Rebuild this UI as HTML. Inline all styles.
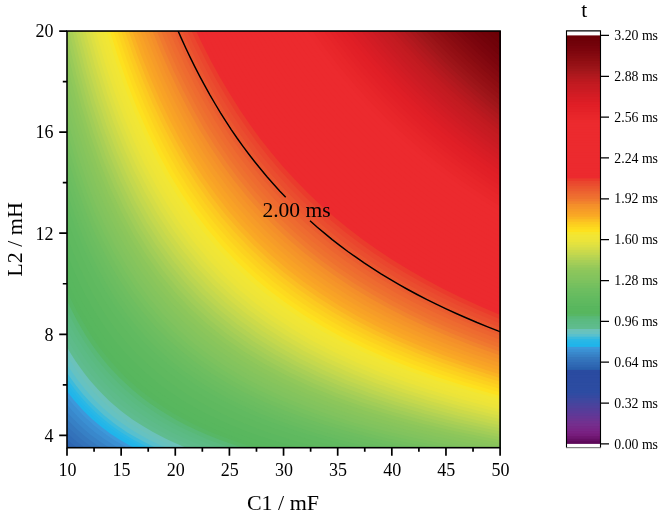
<!DOCTYPE html>
<html><head><meta charset="utf-8"><title>t contour</title>
<style>html,body{margin:0;padding:0;background:#fff;width:667px;height:517px;overflow:hidden}</style>
</head><body>
<svg width="667" height="517" viewBox="0 0 667 517" style="display:block;position:absolute;left:0;top:0">
<defs><clipPath id="pc"><rect x="67.0" y="31.05" width="433.10" height="416.65"/></clipPath></defs>
<rect width="667" height="517" fill="#fff"/>
<g clip-path="url(#pc)">
<rect x="66.0" y="30.05" width="435.10" height="418.65" fill="#2961ad"/>
<path d="M55.1,434.0 55.9,434.9 56.8,435.8 57.6,436.7 58.5,437.6 59.4,438.5 60.3,439.4 61.2,440.2 62.1,441.1 63.0,442.0 63.9,442.8 64.8,443.6 65.7,444.5 66.7,445.3 67.6,446.1 68.6,446.9 69.6,447.7 70.6,448.5 71.6,449.3 72.6,450.0 73.6,450.8 74.6,451.6 75.6,452.3 76.6,453.1 77.7,453.8 78.7,454.6 79.8,455.3 521.8,455.3 521.8,-44.8 55.1,-44.8Z" fill="#2e66b2"/>
<path d="M55.2,427.1 56.3,428.3 57.4,429.6 58.5,430.8 59.6,432.0 60.8,433.2 61.9,434.4 63.1,435.5 64.3,436.7 65.5,437.8 66.7,438.9 67.9,440.1 69.1,441.1 70.4,442.2 71.6,443.3 72.9,444.4 74.2,445.4 75.5,446.5 76.8,447.5 78.2,448.5 79.5,449.5 80.9,450.5 82.3,451.5 83.7,452.4 85.1,453.4 86.5,454.3 88.0,455.3 521.8,455.3 521.8,-44.8 55.2,-44.8Z" fill="#306cb6"/>
<path d="M55.4,419.9 56.7,421.5 58.1,423.1 59.4,424.7 60.8,426.2 62.2,427.8 63.6,429.3 65.0,430.7 66.5,432.2 67.9,433.6 69.4,435.1 70.9,436.5 72.5,437.8 74.0,439.2 75.6,440.5 77.2,441.9 78.8,443.2 80.5,444.5 82.2,445.7 83.9,447.0 85.6,448.2 87.4,449.4 89.1,450.6 90.9,451.8 92.8,453.0 94.6,454.1 96.5,455.3 521.8,455.3 521.8,-44.8 55.4,-44.8Z" fill="#3372ba"/>
<path d="M55.6,412.5 57.1,414.5 58.7,416.5 60.3,418.4 61.9,420.3 63.5,422.2 65.2,424.1 66.9,425.9 68.6,427.7 70.4,429.4 72.2,431.1 74.0,432.8 75.8,434.5 77.7,436.2 79.6,437.8 81.6,439.4 83.5,440.9 85.5,442.5 87.6,444.0 89.7,445.5 91.8,447.0 93.9,448.4 96.1,449.8 98.3,451.2 100.6,452.6 102.9,453.9 105.2,455.3 521.8,455.3 521.8,-44.8 55.6,-44.8Z" fill="#3578be"/>
<path d="M55.7,404.9 57.5,407.3 59.3,409.7 61.1,412.0 63.0,414.3 64.9,416.6 66.8,418.8 68.8,420.9 70.8,423.1 72.8,425.1 74.9,427.2 77.0,429.2 79.2,431.2 81.4,433.1 83.6,435.0 85.9,436.9 88.3,438.7 90.6,440.5 93.1,442.3 95.5,444.0 98.1,445.7 100.6,447.4 103.3,449.0 105.9,450.6 108.6,452.2 111.4,453.8 114.2,455.3 521.8,455.3 521.8,-44.8 55.7,-44.8Z" fill="#3780c5"/>
<path d="M55.9,397.1 57.8,399.9 59.9,402.7 62.0,405.5 64.1,408.2 66.2,410.8 68.4,413.4 70.7,415.9 72.9,418.4 75.3,420.8 77.7,423.2 80.1,425.6 82.6,427.8 85.1,430.1 87.7,432.3 90.3,434.4 93.0,436.5 95.8,438.6 98.6,440.6 101.5,442.6 104.5,444.5 107.5,446.4 110.5,448.2 113.7,450.1 116.9,451.8 120.2,453.6 123.5,455.3 521.8,455.3 521.8,-44.8 55.9,-44.8Z" fill="#3988cc"/>
<path d="M56.0,389.0 58.2,392.3 60.4,395.6 62.8,398.8 65.1,401.9 67.5,405.0 70.0,408.0 72.5,410.9 75.1,413.7 77.7,416.5 80.4,419.2 83.1,421.9 85.9,424.5 88.8,427.0 91.8,429.5 94.8,432.0 97.8,434.3 101.0,436.6 104.2,438.9 107.5,441.1 110.9,443.3 114.4,445.4 118.0,447.5 121.6,449.5 125.4,451.5 129.2,453.4 133.1,455.3 521.8,455.3 521.8,-44.8 56.0,-44.8Z" fill="#3b90d3"/>
<path d="M56.0,380.7 58.5,384.5 61.0,388.3 63.5,392.0 66.1,395.5 68.8,399.0 71.5,402.4 74.3,405.7 77.2,409.0 80.1,412.1 83.1,415.2 86.2,418.2 89.3,421.1 92.5,424.0 95.8,426.8 99.2,429.5 102.7,432.1 106.3,434.7 109.9,437.3 113.7,439.7 117.5,442.1 121.5,444.4 125.6,446.7 129.7,448.9 134.0,451.1 138.4,453.2 142.9,455.3 521.8,455.3 521.8,-44.8 56.0,-44.8Z" fill="#3d98da"/>
<path d="M56.1,374.6 58.7,378.8 61.3,383.0 64.0,387.0 66.8,390.9 69.7,394.7 72.6,398.4 75.6,402.0 78.7,405.6 81.8,409.0 85.0,412.3 88.3,415.6 91.7,418.7 95.2,421.8 98.7,424.8 102.4,427.8 106.2,430.6 110.0,433.4 114.0,436.1 118.1,438.7 122.3,441.3 126.6,443.8 131.1,446.2 135.6,448.6 140.3,450.9 145.1,453.1 150.1,455.3 521.8,455.3 521.8,-44.8 56.1,-44.8Z" fill="#1fb5eb"/>
<path d="M56.1,370.0 58.8,374.5 61.6,378.9 64.4,383.2 67.3,387.4 70.3,391.5 73.4,395.4 76.5,399.2 79.8,403.0 83.1,406.6 86.5,410.2 89.9,413.6 93.5,416.9 97.2,420.2 100.9,423.4 104.8,426.5 108.8,429.5 112.9,432.4 117.1,435.2 121.4,438.0 125.9,440.6 130.5,443.3 135.2,445.8 140.1,448.3 145.1,450.7 150.2,453.0 155.5,455.3 521.8,455.3 521.8,-44.8 56.1,-44.8Z" fill="#24b6e8"/>
<path d="M56.1,365.6 58.9,370.4 61.8,375.1 64.8,379.6 67.8,384.1 70.9,388.4 74.1,392.5 77.4,396.6 80.8,400.6 84.2,404.4 87.8,408.1 91.4,411.7 95.2,415.3 99.0,418.7 103.0,422.0 107.1,425.2 111.3,428.4 115.6,431.4 120.0,434.4 124.6,437.3 129.3,440.1 134.2,442.8 139.2,445.4 144.3,448.0 149.7,450.5 155.1,452.9 160.7,455.3 521.8,455.3 521.8,-44.8 56.1,-44.8Z" fill="#2ab8e6"/>
<path d="M56.1,360.8 59.1,366.0 62.1,370.9 65.1,375.8 68.3,380.5 71.6,385.0 74.9,389.5 78.3,393.8 81.9,397.9 85.5,402.0 89.2,405.9 93.0,409.7 97.0,413.5 101.0,417.1 105.2,420.5 109.5,423.9 113.9,427.2 118.5,430.4 123.1,433.5 128.0,436.5 133.0,439.5 138.1,442.3 143.4,445.0 148.9,447.7 154.6,450.3 160.4,452.8 166.3,455.3 521.8,455.3 521.8,-44.8 56.1,-44.8Z" fill="#3cbbdc"/>
<path d="M56.2,354.4 59.2,359.9 62.4,365.3 65.6,370.6 69.0,375.7 72.4,380.6 75.9,385.3 79.6,390.0 83.3,394.5 87.2,398.8 91.1,403.0 95.2,407.1 99.4,411.0 103.7,414.9 108.1,418.6 112.7,422.2 117.4,425.7 122.3,429.1 127.3,432.4 132.5,435.6 137.9,438.6 143.4,441.6 149.2,444.5 155.1,447.4 161.2,450.1 167.5,452.7 174.0,455.3 521.8,455.3 521.8,-44.8 56.2,-44.8Z" fill="#58c0ce"/>
<path d="M56.2,345.2 59.4,351.4 62.8,357.4 66.3,363.2 69.8,368.8 73.5,374.2 77.3,379.5 81.3,384.6 85.3,389.5 89.5,394.3 93.8,398.9 98.2,403.3 102.7,407.7 107.4,411.8 112.3,415.9 117.3,419.8 122.4,423.6 127.8,427.2 133.3,430.8 139.0,434.2 144.9,437.5 151.0,440.7 157.3,443.8 163.9,446.8 170.6,449.7 177.6,452.6 184.9,455.3 521.8,455.3 521.8,-44.8 56.2,-44.8Z" fill="#66c2c1"/>
<path d="M56.2,335.7 59.6,342.6 63.2,349.2 66.9,355.6 70.7,361.8 74.6,367.8 78.7,373.6 82.9,379.1 87.3,384.5 91.7,389.7 96.4,394.7 101.1,399.6 106.1,404.3 111.1,408.8 116.4,413.2 121.8,417.4 127.4,421.5 133.2,425.4 139.3,429.2 145.5,432.9 152.0,436.4 158.7,439.8 165.6,443.1 172.8,446.3 180.3,449.4 188.0,452.4 196.0,455.3 521.8,455.3 521.8,-44.8 56.2,-44.8Z" fill="#6bc2ba"/>
<path d="M56.2,326.0 59.8,333.6 63.6,340.9 67.5,347.9 71.5,354.7 75.7,361.3 80.1,367.6 84.5,373.6 89.2,379.5 94.0,385.1 99.0,390.6 104.1,395.8 109.4,400.9 114.9,405.8 120.5,410.5 126.4,415.0 132.5,419.4 138.8,423.6 145.3,427.6 152.1,431.6 159.1,435.3 166.4,439.0 174.0,442.5 181.9,445.9 190.1,449.1 198.6,452.3 207.5,455.3 521.8,455.3 521.8,-44.8 56.2,-44.8Z" fill="#5fbc8f"/>
<path d="M56.2,316.1 60.0,324.4 63.9,332.4 68.1,340.1 72.3,347.5 76.8,354.6 81.4,361.5 86.1,368.1 91.1,374.4 96.2,380.5 101.5,386.4 107.0,392.1 112.7,397.5 118.6,402.7 124.7,407.8 131.0,412.6 137.6,417.3 144.4,421.8 151.4,426.1 158.8,430.2 166.4,434.2 174.3,438.1 182.6,441.8 191.2,445.4 200.2,448.8 209.5,452.1 219.2,455.3 521.8,455.3 521.8,-44.8 56.2,-44.8Z" fill="#5ebb8a"/>
<path d="M56.2,306.0 60.2,315.1 64.3,323.8 68.6,332.2 73.1,340.2 77.8,347.9 82.7,355.3 87.7,362.5 93.0,369.3 98.4,375.9 104.1,382.2 109.9,388.3 116.0,394.1 122.3,399.7 128.8,405.1 135.6,410.2 142.7,415.2 150.0,420.0 157.6,424.6 165.5,429.0 173.8,433.2 182.4,437.2 191.3,441.1 200.7,444.9 210.4,448.5 220.6,452.0 231.1,455.3 521.8,455.3 521.8,-44.8 56.2,-44.8Z" fill="#5cbb85"/>
<path d="M56.2,295.7 60.3,305.5 64.7,315.0 69.2,324.1 73.9,332.8 78.8,341.1 83.9,349.1 89.3,356.8 94.8,364.1 100.6,371.2 106.6,378.0 112.8,384.5 119.3,390.7 126.0,396.6 133.0,402.4 140.3,407.9 147.8,413.1 155.6,418.2 163.8,423.0 172.3,427.7 181.2,432.1 190.5,436.4 200.2,440.5 210.3,444.4 220.9,448.2 231.9,451.8 243.4,455.3 521.8,455.3 521.8,-44.8 56.2,-44.8Z" fill="#5bba80"/>
<path d="M56.2,285.1 60.5,295.8 65.0,306.0 69.7,315.8 74.7,325.2 79.8,334.2 85.2,342.8 90.8,351.0 96.7,358.9 102.8,366.5 109.1,373.7 115.7,380.6 122.6,387.3 129.7,393.6 137.2,399.7 144.9,405.5 153.0,411.1 161.3,416.4 170.1,421.5 179.2,426.4 188.8,431.1 198.7,435.6 209.1,439.9 220.1,444.0 231.5,447.9 243.4,451.7 255.9,455.3 521.8,455.3 521.8,-44.8 56.2,-44.8Z" fill="#59b977"/>
<path d="M56.2,274.3 60.7,285.8 65.4,296.9 70.3,307.4 75.4,317.5 80.8,327.2 86.4,336.4 92.3,345.2 98.5,353.7 104.9,361.7 111.6,369.4 118.6,376.8 125.9,383.8 133.4,390.6 141.3,397.0 149.6,403.2 158.1,409.0 167.1,414.6 176.4,420.0 186.2,425.2 196.4,430.1 207.1,434.8 218.3,439.2 230.0,443.5 242.3,447.6 255.2,451.5 268.7,455.3 521.8,455.3 521.8,-44.8 56.2,-44.8Z" fill="#57b765"/>
<path d="M56.2,263.2 60.8,275.7 65.7,287.6 70.8,298.9 76.2,309.8 81.8,320.1 87.7,330.0 93.8,339.4 100.3,348.4 107.0,357.0 114.1,365.1 121.4,373.0 129.1,380.4 137.1,387.5 145.5,394.3 154.2,400.8 163.4,407.0 172.9,412.9 182.8,418.5 193.2,423.9 204.1,429.0 215.5,433.9 227.5,438.6 240.1,443.1 253.3,447.3 267.2,451.4 281.7,455.3 521.8,455.3 521.8,-44.8 56.2,-44.8Z" fill="#57b65e"/>
<path d="M56.2,252.0 61.0,265.4 66.0,278.1 71.3,290.3 76.9,301.9 82.8,312.9 88.9,323.5 95.3,333.5 102.1,343.0 109.1,352.2 116.5,360.8 124.3,369.1 132.4,377.0 140.8,384.5 149.7,391.6 158.9,398.5 168.6,405.0 178.7,411.2 189.2,417.1 200.3,422.7 211.9,428.0 224.1,433.1 236.9,438.0 250.4,442.6 264.5,447.1 279.4,451.3 295.0,455.3 521.8,455.3 521.8,-44.8 56.2,-44.8Z" fill="#58b75e"/>
<path d="M56.2,239.1 61.2,253.6 66.4,267.3 71.9,280.4 77.7,292.9 83.8,304.8 90.2,316.1 97.0,326.8 104.0,337.0 111.5,346.7 119.3,356.0 127.4,364.8 136.0,373.1 145.0,381.1 154.4,388.7 164.2,395.9 174.5,402.7 185.2,409.2 196.5,415.4 208.3,421.3 220.8,426.9 233.8,432.3 247.6,437.3 262.1,442.2 277.3,446.8 293.4,451.1 310.3,455.3 521.8,455.3 521.8,-44.8 56.2,-44.8Z" fill="#59b75e"/>
<path d="M56.2,222.5 61.4,238.4 66.9,253.5 72.6,267.8 78.7,281.5 85.1,294.4 91.9,306.7 99.0,318.3 106.5,329.4 114.4,339.9 122.7,349.8 131.4,359.3 140.6,368.3 150.2,376.8 160.3,384.9 170.8,392.6 181.9,399.9 193.6,406.8 205.8,413.4 218.6,419.6 232.0,425.5 246.2,431.2 261.2,436.5 277.0,441.6 293.7,446.4 311.4,450.9 329.9,455.3 521.8,455.3 521.8,-44.8 56.2,-44.8Z" fill="#5cb85f"/>
<path d="M56.2,202.6 61.6,220.3 67.4,237.0 73.4,252.9 79.9,267.9 86.6,282.1 93.8,295.6 101.3,308.3 109.3,320.4 117.7,331.8 126.6,342.7 136.0,352.9 145.8,362.6 156.2,371.8 167.1,380.5 178.6,388.8 190.6,396.6 203.3,404.0 216.6,411.0 230.6,417.7 245.4,424.0 261.0,429.9 277.4,435.6 294.8,440.9 313.3,446.0 332.8,450.7 353.4,455.3 521.8,455.3 521.8,-44.8 56.2,-44.8Z" fill="#5fb95f"/>
<path d="M56.2,183.2 61.8,202.7 67.8,221.0 74.2,238.4 80.9,254.7 88.0,270.2 95.5,284.9 103.5,298.7 111.9,311.8 120.8,324.1 130.3,335.8 140.2,346.8 150.8,357.3 161.9,367.1 173.6,376.4 185.9,385.2 198.9,393.6 212.6,401.4 227.0,408.8 242.2,415.9 258.2,422.5 275.1,428.8 293.1,434.7 312.1,440.3 332.2,445.6 353.7,450.6 376.3,455.3 521.8,455.3 521.8,-44.8 56.2,-44.8Z" fill="#61ba60"/>
<path d="M56.2,167.1 62.0,188.0 68.2,207.7 74.8,226.3 81.8,243.9 89.1,260.5 97.0,276.1 105.3,290.8 114.1,304.7 123.4,317.8 133.2,330.2 143.7,341.9 154.8,352.9 166.5,363.3 178.9,373.1 191.9,382.4 205.7,391.1 220.2,399.3 235.5,407.1 251.7,414.4 268.7,421.3 286.8,427.8 306.0,434.0 326.3,439.8 348.0,445.2 371.0,450.4 395.4,455.3 521.8,455.3 521.8,-44.8 56.2,-44.8Z" fill="#64bb60"/>
<path d="M56.2,153.6 62.2,175.8 68.5,196.7 75.3,216.4 82.4,234.9 90.0,252.4 98.1,268.8 106.7,284.3 115.8,298.9 125.4,312.7 135.7,325.6 146.5,337.8 158.1,349.3 170.3,360.2 183.2,370.4 196.9,380.0 211.3,389.1 226.5,397.6 242.5,405.6 259.5,413.2 277.5,420.3 296.5,427.1 316.7,433.4 338.2,439.4 361.1,445.0 385.4,450.3 411.3,455.3 521.8,455.3 521.8,-44.8 56.2,-44.8Z" fill="#68bc60"/>
<path d="M56.2,140.3 62.3,163.8 68.8,185.8 75.7,206.5 83.1,226.1 90.9,244.4 99.2,261.7 108.0,277.9 117.4,293.2 127.4,307.6 138.0,321.2 149.3,333.9 161.2,345.9 173.9,357.1 187.4,367.7 201.6,377.7 216.7,387.1 232.6,395.9 249.4,404.3 267.2,412.1 286.0,419.4 306.0,426.4 327.3,432.9 349.9,439.0 374.0,444.8 399.7,450.2 427.0,455.3 521.8,455.3 521.8,-44.8 56.2,-44.8Z" fill="#6bbd60"/>
<path d="M56.2,126.8 62.4,151.5 69.1,174.8 76.2,196.6 83.7,217.1 91.8,236.4 100.3,254.5 109.4,271.5 119.1,287.5 129.4,302.5 140.3,316.7 152.0,329.9 164.4,342.4 177.6,354.1 191.6,365.1 206.4,375.4 222.1,385.2 238.8,394.3 256.3,402.9 274.9,410.9 294.7,418.5 315.6,425.6 337.9,432.3 361.7,438.6 387.1,444.5 414.2,450.1 443.0,455.3 521.8,455.3 521.8,-44.8 56.2,-44.8Z" fill="#6ebe60"/>
<path d="M56.2,113.0 62.6,139.1 69.4,163.5 76.6,186.5 84.4,208.0 92.6,228.3 101.4,247.2 110.7,265.0 120.7,281.7 131.3,297.4 142.7,312.1 154.7,325.9 167.6,338.9 181.3,351.1 195.8,362.5 211.2,373.2 227.6,383.2 244.9,392.7 263.3,401.5 282.7,409.8 303.4,417.6 325.4,424.9 348.7,431.8 373.7,438.2 400.4,444.3 428.9,450.0 459.3,455.3 521.8,455.3 521.8,-44.8 56.2,-44.8Z" fill="#73bf5f"/>
<path d="M56.2,99.0 62.7,126.5 69.7,152.2 77.1,176.3 85.0,198.9 93.4,220.1 102.5,239.9 112.1,258.5 122.4,275.9 133.3,292.3 145.0,307.6 157.5,322.0 170.7,335.4 184.9,348.0 200.0,359.8 216.0,370.9 233.1,381.3 251.1,391.0 270.3,400.2 290.6,408.7 312.2,416.7 335.2,424.2 359.7,431.3 385.9,437.9 413.9,444.1 443.9,449.8 475.8,455.3 521.8,455.3 521.8,-44.8 56.2,-44.8Z" fill="#77c15f"/>
<path d="M56.2,84.8 62.8,113.7 69.9,140.7 77.5,165.9 85.6,189.6 94.3,211.8 103.5,232.5 113.4,251.9 124.0,270.1 135.2,287.1 147.3,303.0 160.2,318.0 173.9,331.9 188.6,345.0 204.2,357.2 220.9,368.7 238.6,379.4 257.4,389.4 277.4,398.8 298.5,407.6 321.1,415.8 345.1,423.5 370.7,430.8 398.2,437.5 427.5,443.8 459.0,449.7 492.6,455.3 521.8,455.3 521.8,-44.8 56.2,-44.8Z" fill="#7cc25e"/>
<path d="M56.2,70.3 62.9,100.7 70.2,129.0 77.9,155.5 86.2,180.2 95.1,203.4 104.6,225.1 114.7,245.3 125.6,264.2 137.2,281.9 149.6,298.5 162.9,314.0 177.1,328.4 192.2,341.9 208.4,354.6 225.7,366.4 244.1,377.5 263.7,387.8 284.4,397.5 306.5,406.5 330.0,415.0 355.1,422.9 381.9,430.2 410.6,437.1 441.4,443.6 474.4,449.6 509.7,455.3 521.8,455.3 521.8,-44.8 56.2,-44.8Z" fill="#81c35e"/>
<path d="M56.2,55.7 63.1,87.5 70.5,117.2 78.4,144.9 86.8,170.8 95.9,195.0 105.6,217.5 116.0,238.6 127.2,258.3 139.1,276.7 151.9,293.9 165.6,309.9 180.2,324.9 195.9,338.9 212.6,352.0 230.5,364.2 249.6,375.6 270.0,386.2 291.6,396.1 314.6,405.4 339.1,414.1 365.2,422.2 393.2,429.7 423.2,436.8 455.4,443.4 490.0,449.5 527.1,455.3 527.1,455.3 527.1,-44.8 56.2,-44.8Z" fill="#84c45d"/>
<path d="M56.2,40.8 63.2,74.1 70.7,105.2 78.8,134.2 87.5,161.2 96.7,186.4 106.7,210.0 117.3,231.9 128.8,252.4 141.0,271.5 154.2,289.3 168.2,305.9 183.3,321.4 199.5,335.9 216.9,349.3 235.4,361.9 255.2,373.7 276.3,384.6 298.8,394.8 322.7,404.3 348.2,413.2 375.5,421.5 404.6,429.2 436.0,436.4 469.6,443.2 505.9,449.4 544.7,455.3 544.7,455.3 544.7,-44.8 56.2,-44.8Z" fill="#88c55c"/>
<path d="M56.2,25.6 63.3,60.5 71.0,93.0 79.2,123.3 88.0,151.5 97.5,177.8 107.7,202.3 118.6,225.1 130.4,246.4 142.9,266.2 156.4,284.7 170.9,301.9 186.5,317.9 203.2,332.8 221.1,346.7 240.3,359.7 260.8,371.8 282.6,383.0 306.0,393.5 330.9,403.3 357.4,412.4 385.8,420.8 416.2,428.7 448.9,436.1 484.1,442.9 521.9,449.3 562.6,455.3 562.6,455.3 562.6,-44.8 56.2,-44.8Z" fill="#8cc65b"/>
<path d="M56.2,10.3 63.4,46.4 71.1,80.1 79.4,111.4 88.3,140.6 97.8,167.8 108.1,193.1 119.1,216.7 130.9,238.6 143.6,259.1 157.2,278.1 171.9,295.9 187.6,312.4 204.5,327.8 222.6,342.1 242.0,355.5 262.7,367.9 284.9,379.5 308.6,390.2 333.9,400.3 360.8,409.6 389.6,418.3 420.5,426.5 453.6,434.0 489.3,441.0 527.7,447.6 569.1,453.7 569.1,453.7 569.1,-44.8 56.2,-44.8Z" fill="#91c85a"/>
<path d="M58.2,5.8 65.4,41.8 73.2,75.3 81.5,106.6 90.5,135.7 100.1,162.9 110.3,188.2 121.4,211.8 133.2,233.9 145.9,254.4 159.5,273.5 174.1,291.3 189.8,307.9 206.6,323.4 224.6,337.9 243.9,351.4 264.6,363.9 286.6,375.6 310.2,386.5 335.2,396.7 361.9,406.2 390.5,415.0 421.0,423.2 453.6,430.9 488.8,438.1 526.6,444.7 567.2,451.0 567.2,451.0 567.2,-44.8 58.2,-44.8Z" fill="#99ca59"/>
<path d="M61.1,5.8 68.4,41.2 76.3,74.2 84.7,105.0 93.7,133.7 103.3,160.6 113.6,185.6 124.7,209.0 136.5,230.8 149.2,251.2 162.8,270.2 177.4,288.0 193.0,304.5 209.7,320.0 227.7,334.4 246.8,347.9 267.4,360.5 289.2,372.2 312.6,383.1 337.4,393.4 363.8,402.9 392.0,411.8 422.0,420.1 454.2,427.9 488.6,435.1 525.7,441.9 565.5,448.2 565.5,448.2 565.5,-44.8 61.1,-44.8Z" fill="#a1cd58"/>
<path d="M64.1,5.8 71.4,40.6 79.4,73.0 87.8,103.4 96.9,131.8 106.5,158.3 116.9,183.1 128.0,206.2 139.9,227.9 152.6,248.1 166.2,267.0 180.7,284.6 196.3,301.1 212.9,316.5 230.7,331.0 249.8,344.4 270.2,357.0 291.9,368.8 315.0,379.7 339.6,390.0 365.7,399.6 393.5,408.6 423.2,417.0 454.8,424.8 488.6,432.1 524.9,438.9 563.8,445.3 563.8,445.3 563.8,-44.8 64.1,-44.8Z" fill="#a9cf56"/>
<path d="M67.1,5.8 74.5,40.0 82.5,71.9 91.0,101.9 100.1,129.8 109.8,156.0 120.2,180.5 131.4,203.5 143.2,224.9 155.9,245.0 169.5,263.7 184.0,281.3 199.5,297.7 216.1,313.1 233.8,327.5 252.8,341.0 273.0,353.5 294.5,365.3 317.4,376.3 341.8,386.7 367.6,396.3 395.1,405.3 424.3,413.8 455.4,421.7 488.6,429.1 524.2,436.0 562.3,442.5 562.3,442.5 562.3,-44.8 67.1,-44.8Z" fill="#b2d254"/>
<path d="M70.1,5.8 77.6,39.4 85.6,70.8 94.2,100.3 103.4,127.9 113.2,153.8 123.6,178.0 134.7,200.7 146.6,222.0 159.3,241.9 172.9,260.5 187.4,278.0 202.8,294.4 219.3,309.7 236.9,324.0 255.7,337.5 275.7,350.1 297.1,361.9 319.8,372.9 343.9,383.3 369.5,393.0 396.6,402.1 425.5,410.6 456.1,418.5 488.7,426.0 523.6,433.0 560.9,439.5 560.9,439.5 560.9,-44.8 70.1,-44.8Z" fill="#bbd551"/>
<path d="M73.2,5.8 80.7,38.8 88.8,69.8 97.5,98.8 106.7,126.0 116.5,151.6 127.0,175.5 138.1,198.0 150.0,219.0 162.7,238.8 176.3,257.3 190.7,274.7 206.1,291.0 222.5,306.3 240.0,320.6 258.7,334.0 278.5,346.6 299.7,358.4 322.2,369.5 346.1,379.9 371.4,389.6 398.2,398.8 426.6,407.3 456.8,415.4 488.9,422.9 523.1,430.0 559.6,436.6 559.6,436.6 559.6,-44.8 73.2,-44.8Z" fill="#c4d84e"/>
<path d="M76.3,5.8 83.9,38.2 92.1,68.7 100.8,97.3 110.0,124.2 119.9,149.4 130.4,173.1 141.6,195.3 153.5,216.1 166.2,235.7 179.7,254.1 194.1,271.4 209.4,287.6 225.7,302.8 243.1,317.1 261.6,330.5 281.3,343.1 302.3,354.9 324.6,366.0 348.2,376.5 373.2,386.3 399.7,395.4 427.8,404.1 457.5,412.2 489.1,419.8 522.6,426.9 558.4,433.6 558.4,433.6 558.4,-44.8 76.3,-44.8Z" fill="#ccda4a"/>
<path d="M79.4,5.8 87.1,37.7 95.4,67.7 104.1,95.8 113.4,122.3 123.3,147.2 133.8,170.6 145.0,192.6 156.9,213.3 169.6,232.7 183.1,251.0 197.4,268.1 212.7,284.2 228.9,299.4 246.2,313.7 264.6,327.0 284.1,339.6 304.9,351.5 327.0,362.6 350.3,373.0 375.1,382.9 401.3,392.1 429.0,400.8 458.3,408.9 489.3,416.6 522.3,423.8 557.3,430.6 557.3,430.6 557.3,-44.8 79.4,-44.8Z" fill="#d5dd47"/>
<path d="M82.6,5.8 90.4,37.1 98.7,66.6 107.5,94.4 116.8,120.5 126.7,145.1 137.3,168.2 148.5,189.9 160.4,210.4 173.0,229.7 186.5,247.8 200.8,264.9 216.0,280.9 232.2,296.0 249.3,310.2 267.6,323.6 286.9,336.1 307.5,348.0 329.3,359.1 352.5,369.6 376.9,379.4 402.8,388.7 430.1,397.4 459.0,405.7 489.6,413.4 521.9,420.7 556.3,427.5 556.3,427.5 556.3,-44.8 82.6,-44.8Z" fill="#dde043"/>
<path d="M85.9,5.8 93.7,36.6 102.0,65.6 110.8,92.9 120.2,118.7 130.2,142.9 140.7,165.8 152.0,187.3 163.9,207.6 176.5,226.7 189.9,244.7 204.2,261.6 219.3,277.6 235.4,292.6 252.4,306.7 270.5,320.1 289.7,332.6 310.1,344.5 331.7,355.6 354.6,366.1 378.8,376.0 404.3,385.3 431.3,394.1 459.8,402.4 489.8,410.1 521.6,417.5 555.3,424.4 555.3,424.4 555.3,-44.8 85.9,-44.8Z" fill="#e4e23f"/>
<path d="M89.1,5.8 97.0,36.1 105.4,64.6 114.3,91.5 123.7,116.9 133.7,140.8 144.2,163.4 155.5,184.7 167.4,204.8 180.0,223.7 193.4,241.5 207.6,258.4 222.6,274.2 238.6,289.2 255.5,303.3 273.5,316.6 292.5,329.1 312.7,341.0 334.1,352.1 356.7,362.6 380.6,372.5 405.8,381.9 432.5,390.7 460.5,399.0 490.1,406.9 521.4,414.3 554.4,421.2 554.4,421.2 554.4,-44.8 89.1,-44.8Z" fill="#ebe43a"/>
<path d="M92.5,5.8 100.4,35.5 108.8,63.6 117.7,90.1 127.2,115.1 137.2,138.8 147.8,161.0 159.0,182.1 170.9,202.0 183.5,220.7 196.8,238.4 211.0,255.1 226.0,270.9 241.8,285.8 258.7,299.8 276.5,313.1 295.3,325.6 315.3,337.4 336.4,348.6 358.8,359.1 382.4,369.1 407.3,378.4 433.6,387.3 461.3,395.7 490.4,403.6 521.2,411.0 553.6,418.0 553.6,418.0 553.6,-44.8 92.5,-44.8Z" fill="#efe537"/>
<path d="M95.8,5.8 103.8,35.0 112.3,62.6 121.2,88.7 130.7,113.4 140.7,136.7 151.3,158.7 162.6,179.5 174.4,199.2 187.0,217.8 200.3,235.3 214.4,251.9 229.3,267.6 245.1,282.4 261.8,296.4 279.4,309.6 298.1,322.1 317.9,333.9 338.8,345.1 360.9,355.6 384.2,365.6 408.8,375.0 434.7,383.9 462.0,392.3 490.7,400.2 520.9,407.7 552.8,414.8 552.8,414.8 552.8,-44.8 95.8,-44.8Z" fill="#f1e635"/>
<path d="M99.2,5.8 107.3,34.5 115.8,61.7 124.8,87.4 134.3,111.7 144.3,134.6 154.9,156.4 166.1,177.0 178.0,196.4 190.5,214.8 203.8,232.2 217.8,248.7 232.7,264.2 248.3,279.0 264.9,292.9 282.4,306.1 300.9,318.6 320.5,330.3 341.2,341.5 363.0,352.1 386.0,362.0 410.3,371.5 435.9,380.4 462.8,388.8 491.0,396.8 520.8,404.4 552.0,411.5 552.0,411.5 552.0,-44.8 99.2,-44.8Z" fill="#f6e62c"/>
<path d="M102.7,5.8 110.8,34.0 119.3,60.7 128.3,86.0 137.8,109.9 147.9,132.6 158.5,154.1 169.7,174.4 181.6,193.7 194.1,211.9 207.3,229.1 221.3,245.5 236.0,260.9 251.6,275.6 268.0,289.5 285.4,302.6 303.7,315.0 323.1,326.8 343.5,337.9 365.1,348.5 387.8,358.5 411.8,367.9 437.0,376.9 463.5,385.4 491.3,393.4 520.6,401.0 551.3,408.2 551.3,408.2 551.3,-44.8 102.7,-44.8Z" fill="#fde11f"/>
<path d="M106.2,5.8 114.3,33.5 122.9,59.8 131.9,84.7 141.5,108.2 151.5,130.6 162.1,151.8 173.3,171.9 185.2,190.9 197.7,209.0 210.8,226.1 224.7,242.3 239.4,257.6 254.8,272.2 271.1,286.0 288.3,299.1 306.5,311.5 325.7,323.2 345.9,334.4 367.2,344.9 389.6,354.9 413.3,364.4 438.1,373.4 464.2,381.9 491.6,390.0 520.4,397.6 550.6,404.9 550.6,404.9 550.6,-44.8 106.2,-44.8Z" fill="#fdda1f"/>
<path d="M109.7,5.8 117.9,33.0 126.5,58.8 135.5,83.3 145.1,106.6 155.2,128.6 165.8,149.5 177.0,169.4 188.8,188.2 201.2,206.1 214.3,223.0 228.2,239.1 242.7,254.3 258.1,268.8 274.3,282.5 291.3,295.6 309.3,307.9 328.3,319.6 348.2,330.8 369.3,341.3 391.4,351.3 414.7,360.8 439.2,369.8 464.9,378.4 491.9,386.5 520.2,394.2 549.9,401.5 549.9,401.5 549.9,-44.8 109.7,-44.8Z" fill="#fcd21f"/>
<path d="M113.3,5.8 121.5,32.5 130.1,57.9 139.2,82.0 148.8,104.9 158.9,126.6 169.5,147.3 180.6,166.9 192.4,185.5 204.8,203.2 217.9,220.0 231.6,235.9 246.1,251.1 261.3,265.4 277.4,279.1 294.3,292.0 312.1,304.4 330.8,316.0 350.6,327.2 371.3,337.7 393.2,347.7 416.2,357.2 440.3,366.2 465.7,374.8 492.2,383.0 520.1,390.7 549.2,398.0 549.2,398.0 549.2,-44.8 113.3,-44.8Z" fill="#fcca20"/>
<path d="M116.9,5.8 125.1,32.0 133.8,57.0 142.9,80.7 152.5,103.2 162.6,124.7 173.2,145.0 184.3,164.4 196.1,182.8 208.4,200.3 221.4,216.9 235.1,232.7 249.5,247.8 264.6,262.0 280.5,275.6 297.3,288.5 314.9,300.8 333.4,312.4 352.9,323.5 373.4,334.1 395.0,344.1 417.6,353.6 441.4,362.6 466.4,371.2 492.5,379.4 519.9,387.2 548.5,394.6 548.5,394.6 548.5,-44.8 116.9,-44.8Z" fill="#fbbf22"/>
<path d="M120.5,5.8 128.8,31.6 137.5,56.1 146.6,79.4 156.2,101.6 166.3,122.7 176.9,142.8 188.0,162.0 199.7,180.1 212.0,197.5 225.0,213.9 238.6,229.6 252.9,244.5 267.9,258.7 283.7,272.2 300.2,285.0 317.7,297.2 336.0,308.8 355.3,319.9 375.5,330.4 396.8,340.4 419.1,349.9 442.5,359.0 467.1,367.6 492.8,375.8 519.7,383.6 547.9,391.0 547.9,391.0 547.9,-44.8 120.5,-44.8Z" fill="#fab323"/>
<path d="M124.2,5.8 132.5,31.1 141.2,55.2 150.4,78.1 160.0,100.0 170.1,120.8 180.6,140.6 191.7,159.5 203.4,177.5 215.7,194.6 228.5,210.9 242.1,226.4 256.2,241.2 271.1,255.3 286.8,268.7 303.2,281.5 320.5,293.6 338.6,305.2 357.6,316.2 377.6,326.7 398.5,336.7 420.5,346.3 443.6,355.3 467.8,364.0 493.1,372.2 519.5,380.0 547.2,387.5 547.2,387.5 547.2,-44.8 124.2,-44.8Z" fill="#f9a825"/>
<path d="M128.0,5.8 136.3,30.6 145.0,54.3 154.2,76.9 163.8,98.4 173.8,118.9 184.4,138.4 195.5,157.1 207.1,174.8 219.3,191.8 232.1,207.9 245.5,223.3 259.6,237.9 274.4,251.9 289.9,265.2 306.2,277.9 323.3,290.0 341.2,301.6 359.9,312.6 379.6,323.1 400.3,333.0 422.0,342.6 444.7,351.6 468.5,360.3 493.3,368.5 519.4,376.4 546.5,383.9 546.5,383.9 546.5,-44.8 128.0,-44.8Z" fill="#f8a226"/>
<path d="M131.8,5.8 140.1,30.2 148.8,53.4 158.0,75.6 167.6,96.8 177.7,117.0 188.2,136.3 199.3,154.7 210.8,172.2 223.0,189.0 235.7,204.9 249.0,220.2 263.0,234.7 277.7,248.6 293.1,261.8 309.2,274.4 326.0,286.4 343.7,297.9 362.3,308.9 381.7,319.4 402.1,329.3 423.4,338.8 445.8,347.9 469.1,356.6 493.6,364.9 519.2,372.7 545.9,380.3 545.9,380.3 545.9,-44.8 131.8,-44.8Z" fill="#f69c28"/>
<path d="M135.6,5.8 143.9,29.7 152.7,52.6 161.9,74.4 171.4,95.2 181.5,115.1 192.0,134.1 203.0,152.3 214.6,169.6 226.7,186.1 239.3,201.9 252.6,217.0 266.4,231.4 281.0,245.2 296.2,258.3 312.1,270.9 328.8,282.8 346.3,294.3 364.6,305.2 383.8,315.6 403.8,325.6 424.8,335.1 446.8,344.2 469.8,352.9 493.9,361.1 519.0,369.0 545.2,376.6 545.2,376.6 545.2,-44.8 135.6,-44.8Z" fill="#f59529"/>
<path d="M139.5,5.8 147.8,29.3 156.6,51.7 165.7,73.2 175.3,93.7 185.4,113.3 195.9,132.0 206.8,149.9 218.3,167.0 230.3,183.3 242.9,199.0 256.1,213.9 269.8,228.2 284.3,241.8 299.3,254.9 315.1,267.3 331.6,279.2 348.9,290.6 366.9,301.5 385.8,311.9 405.6,321.8 426.3,331.3 447.9,340.4 470.5,349.1 494.2,357.4 518.8,365.3 544.6,372.9 544.6,372.9 544.6,-44.8 139.5,-44.8Z" fill="#f48f2a"/>
<path d="M143.4,5.8 151.7,28.8 160.5,50.9 169.7,71.9 179.2,92.1 189.3,111.4 199.7,129.9 210.7,147.5 222.1,164.4 234.0,180.6 246.5,196.0 259.6,210.8 273.3,224.9 287.5,238.5 302.5,251.4 318.1,263.8 334.4,275.6 351.4,286.9 369.3,297.8 387.9,308.1 407.4,318.1 427.7,327.5 449.0,336.6 471.2,345.3 494.4,353.6 518.6,361.5 543.9,369.1 543.9,369.1 543.9,-44.8 143.4,-44.8Z" fill="#f1842d"/>
<path d="M147.3,5.8 155.7,28.4 164.5,50.0 173.6,70.7 183.2,90.6 193.2,109.6 203.6,127.8 214.5,145.2 225.9,161.8 237.8,177.8 250.2,193.1 263.1,207.7 276.7,221.7 290.8,235.1 305.6,247.9 321.0,260.2 337.2,272.0 354.0,283.3 371.6,294.0 389.9,304.4 409.1,314.3 429.2,323.7 450.1,332.8 471.9,341.5 494.7,349.8 518.5,357.7 543.2,365.3 543.2,365.3 543.2,-44.8 147.3,-44.8Z" fill="#f0792f"/>
<path d="M151.3,5.8 159.7,28.0 168.5,49.2 177.6,69.6 187.2,89.1 197.1,107.7 207.5,125.7 218.4,142.8 229.7,159.3 241.5,175.0 253.8,190.1 266.7,204.6 280.1,218.5 294.1,231.7 308.7,244.5 324.0,256.7 339.9,268.4 356.5,279.6 373.9,290.3 392.0,300.6 410.9,310.4 430.6,319.9 451.2,328.9 472.6,337.6 495.0,345.9 518.3,353.9 542.6,361.5 542.6,361.5 542.6,-44.8 151.3,-44.8Z" fill="#ee712f"/>
<path d="M155.3,5.8 163.7,27.5 172.5,48.4 181.6,68.4 191.2,87.5 201.1,105.9 211.4,123.6 222.2,140.5 233.5,156.7 245.2,172.3 257.5,187.2 270.2,201.5 283.5,215.2 297.4,228.4 311.9,241.0 327.0,253.1 342.7,264.7 359.1,275.9 376.2,286.5 394.0,296.8 412.6,306.6 432.0,316.0 452.2,325.0 473.3,333.7 495.3,342.0 518.1,350.0 542.0,357.6 542.0,357.6 542.0,-44.8 155.3,-44.8Z" fill="#ee6b30"/>
<path d="M159.4,5.8 167.8,27.1 176.6,47.6 185.7,67.2 195.2,86.0 205.1,104.1 215.4,121.5 226.1,138.2 237.3,154.2 249.0,169.5 261.1,184.3 273.8,198.4 287.0,212.0 300.7,225.0 315.0,237.5 329.9,249.5 345.5,261.1 361.6,272.1 378.5,282.8 396.1,292.9 414.4,302.7 433.5,312.1 453.3,321.1 474.0,329.8 495.6,338.1 518.0,346.0 541.3,353.7 541.3,353.7 541.3,-44.8 159.4,-44.8Z" fill="#ec6430"/>
<path d="M163.5,5.8 171.9,26.7 180.7,46.8 189.8,66.0 199.2,84.6 209.1,102.4 219.4,119.5 230.0,135.9 241.2,151.6 252.7,166.8 264.8,181.4 277.3,195.3 290.4,208.8 304.0,221.7 318.2,234.1 332.9,246.0 348.2,257.4 364.2,268.4 380.8,279.0 398.1,289.1 416.1,298.8 434.9,308.2 454.4,317.2 474.7,325.8 495.9,334.1 517.9,342.1 540.7,349.7 540.7,349.7 540.7,-44.8 163.5,-44.8Z" fill="#eb5c30"/>
<path d="M167.7,5.8 176.1,26.3 184.8,46.0 193.9,64.9 203.3,83.1 213.1,100.6 223.4,117.4 234.0,133.6 245.0,149.1 256.5,164.1 268.5,178.5 280.9,192.3 293.8,205.6 307.3,218.3 321.3,230.6 335.9,242.4 351.0,253.8 366.7,264.7 383.1,275.2 400.2,285.2 417.9,294.9 436.3,304.3 455.5,313.2 475.4,321.8 496.2,330.1 517.7,338.1 540.1,345.7 540.1,345.7 540.1,-44.8 167.7,-44.8Z" fill="#eb552f"/>
<path d="M171.9,5.8 180.3,25.9 189.0,45.2 198.0,63.7 207.4,81.6 217.2,98.8 227.4,115.4 237.9,131.3 248.9,146.6 260.3,161.4 272.2,175.6 284.5,189.2 297.3,202.3 310.6,215.0 324.4,227.1 338.8,238.8 353.8,250.1 369.3,260.9 385.4,271.3 402.2,281.4 419.6,291.0 437.7,300.3 456.6,309.2 476.1,317.8 496.5,326.1 517.6,334.1 539.5,341.7 539.5,341.7 539.5,-44.8 171.9,-44.8Z" fill="#ea4d2f"/>
<path d="M176.1,5.8 184.5,25.4 193.2,44.4 202.2,62.6 211.6,80.2 221.3,97.1 231.4,113.4 241.9,129.0 252.8,144.1 264.1,158.7 275.9,172.7 288.1,186.2 300.7,199.1 313.9,211.6 327.6,223.7 341.8,235.3 356.5,246.4 371.8,257.2 387.7,267.5 404.2,277.5 421.4,287.1 439.2,296.3 457.7,305.2 476.9,313.8 496.8,322.0 517.5,330.0 539.0,337.6 539.0,337.6 539.0,-44.8 176.1,-44.8Z" fill="#ea462e"/>
<path d="M180.4,5.8 188.8,25.0 197.4,43.6 206.4,61.5 215.7,78.7 225.4,95.3 235.5,111.4 245.9,126.8 256.7,141.7 267.9,156.0 279.6,169.8 291.7,183.1 304.2,195.9 317.2,208.3 330.7,220.2 344.7,231.7 359.3,242.7 374.3,253.4 390.0,263.7 406.2,273.6 423.1,283.1 440.6,292.3 458.7,301.2 477.6,309.7 497.1,317.9 517.4,325.9 538.4,333.5 538.4,333.5 538.4,-44.8 180.4,-44.8Z" fill="#ea3b2c"/>
<path d="M184.7,5.8 193.1,24.6 201.7,42.8 210.7,60.4 219.9,77.3 229.6,93.6 239.6,109.4 249.9,124.5 260.6,139.2 271.8,153.3 283.3,166.9 295.3,180.1 307.7,192.7 320.5,204.9 333.9,216.7 347.7,228.1 362.0,239.0 376.9,249.6 392.3,259.8 408.3,269.6 424.8,279.1 442.0,288.3 459.8,297.1 478.3,305.6 497.4,313.8 517.3,321.7 537.9,329.4 537.9,329.4 537.9,-44.8 184.7,-44.8Z" fill="#ec2a2e"/>
<path d="M189.1,5.8 197.4,24.2 206.0,42.1 214.9,59.3 224.2,75.9 233.7,91.9 243.7,107.4 253.9,122.3 264.6,136.7 275.6,150.6 287.0,164.1 298.9,177.0 311.1,189.5 323.8,201.6 337.0,213.3 350.6,224.5 364.8,235.4 379.4,245.8 394.6,255.9 410.3,265.7 426.6,275.1 443.4,284.2 460.9,293.0 479.0,301.5 497.8,309.6 517.2,317.5 537.3,325.2 537.3,325.2 537.3,-44.8 189.1,-44.8Z" fill="#ec2a2e"/>
<path d="M193.5,5.8 201.8,23.9 210.4,41.3 219.2,58.2 228.4,74.5 237.9,90.2 247.8,105.4 258.0,120.1 268.5,134.3 279.5,148.0 290.8,161.2 302.5,174.0 314.6,186.3 327.1,198.3 340.1,209.8 353.6,220.9 367.5,231.7 381.9,242.0 396.8,252.1 412.3,261.8 428.3,271.1 444.9,280.1 462.0,288.9 479.7,297.3 498.1,305.5 517.1,313.3 536.8,320.9 536.8,320.9 536.8,-44.8 193.5,-44.8Z" fill="#ec2a2e"/>
<path d="M198.0,5.8 206.2,23.5 214.7,40.6 223.6,57.1 232.7,73.1 242.2,88.5 251.9,103.4 262.0,117.9 272.5,131.8 283.3,145.3 294.5,158.4 306.1,171.0 318.1,183.1 330.5,194.9 343.3,206.3 356.5,217.3 370.3,227.9 384.4,238.2 399.1,248.2 414.3,257.8 430.0,267.1 446.3,276.0 463.1,284.7 480.5,293.1 498.5,301.2 517.1,309.1 536.3,316.6 536.3,316.6 536.3,-44.8 198.0,-44.8Z" fill="#ec2a2e"/>
<path d="M202.5,5.8 210.7,23.1 219.2,39.8 227.9,56.0 237.0,71.7 246.4,86.8 256.1,101.5 266.1,115.7 276.5,129.4 287.2,142.7 298.3,155.5 309.7,167.9 321.5,180.0 333.8,191.6 346.4,202.8 359.5,213.7 373.0,224.2 387.0,234.4 401.4,244.3 416.3,253.8 431.7,263.0 447.7,271.9 464.2,280.5 481.2,288.9 498.8,297.0 517.0,304.8 535.8,312.3 535.8,312.3 535.8,-44.8 202.5,-44.8Z" fill="#ec2a2e"/>
<path d="M207.0,5.8 215.2,22.7 223.6,39.1 232.3,54.9 241.4,70.3 250.7,85.2 260.3,99.6 270.2,113.5 280.5,127.0 291.1,140.0 302.0,152.7 313.3,164.9 325.0,176.8 337.1,188.2 349.6,199.3 362.4,210.1 375.7,220.5 389.5,230.6 403.7,240.3 418.3,249.8 433.5,258.9 449.1,267.8 465.2,276.3 481.9,284.6 499.2,292.7 517.0,300.4 535.4,308.0 535.4,308.0 535.4,-44.8 207.0,-44.8Z" fill="#ec2a2e"/>
<path d="M211.6,5.8 219.7,22.3 228.1,38.4 236.8,53.9 245.7,68.9 255.0,83.5 264.5,97.6 274.3,111.3 284.5,124.6 295.0,137.4 305.8,149.9 317.0,161.9 328.5,173.6 340.4,184.9 352.7,195.9 365.4,206.5 378.5,216.8 392.0,226.7 405.9,236.4 420.3,245.8 435.2,254.8 450.5,263.6 466.3,272.1 482.7,280.4 499.5,288.3 516.9,296.1 534.9,303.6 534.9,303.6 534.9,-44.8 211.6,-44.8Z" fill="#ec2a2e"/>
<path d="M216.2,5.8 224.3,22.0 232.6,37.6 241.2,52.8 250.1,67.6 259.3,81.9 268.7,95.7 278.5,109.2 288.5,122.2 298.9,134.8 309.6,147.0 320.6,158.9 332.0,170.4 343.7,181.6 355.8,192.4 368.3,202.9 381.2,213.0 394.5,222.9 408.2,232.5 422.3,241.7 436.9,250.7 451.9,259.4 467.4,267.9 483.4,276.0 499.9,284.0 516.9,291.7 534.4,299.1 534.4,299.1 534.4,-44.8 216.2,-44.8Z" fill="#ec2a2e"/>
<path d="M220.8,5.8 228.9,21.6 237.2,36.9 245.7,51.8 254.5,66.2 263.6,80.2 273.0,93.8 282.6,107.0 292.6,119.8 302.8,132.2 313.4,144.2 324.3,155.9 335.5,167.2 347.0,178.2 359.0,188.9 371.3,199.3 383.9,209.3 397.0,219.0 410.4,228.5 424.3,237.7 438.6,246.6 453.3,255.2 468.5,263.6 484.1,271.7 500.3,279.6 516.9,287.2 534.0,294.7 534.0,294.7 534.0,-44.8 220.8,-44.8Z" fill="#ec2a2e"/>
<path d="M225.5,5.8 233.5,21.2 241.8,36.2 250.3,50.8 259.0,64.9 268.0,78.6 277.3,91.9 286.8,104.9 296.6,117.4 306.8,129.6 317.2,141.4 327.9,152.9 339.0,164.1 350.4,174.9 362.1,185.4 374.2,195.6 386.6,205.6 399.5,215.2 412.7,224.5 426.3,233.6 440.3,242.4 454.7,251.0 469.6,259.3 484.9,267.3 500.6,275.2 516.9,282.8 533.6,290.1 533.6,290.1 533.6,-44.8 225.5,-44.8Z" fill="#ec2a2e"/>
<path d="M230.3,5.8 238.2,20.9 246.4,35.5 254.8,49.7 263.5,63.6 272.4,77.0 281.5,90.0 291.0,102.7 300.7,115.0 310.7,127.0 321.0,138.6 331.6,149.9 342.5,160.9 353.7,171.6 365.2,181.9 377.1,192.0 389.4,201.8 401.9,211.3 414.9,220.5 428.2,229.5 442.0,238.2 456.1,246.7 470.6,254.9 485.6,262.9 501.0,270.7 516.9,278.2 533.2,285.6 533.2,285.6 533.2,-44.8 230.3,-44.8Z" fill="#ec2a2e"/>
<path d="M235.1,5.8 243.0,20.5 251.1,34.8 259.4,48.7 268.0,62.2 276.8,75.4 285.9,88.2 295.2,100.6 304.8,112.7 314.7,124.4 324.8,135.8 335.2,147.0 346.0,157.8 357.0,168.3 368.4,178.5 380.1,188.4 392.1,198.0 404.4,207.4 417.1,216.5 430.2,225.4 443.7,234.0 457.5,242.4 471.7,250.6 486.3,258.5 501.4,266.2 516.9,273.7 532.8,281.0 532.8,281.0 532.8,-44.8 235.1,-44.8Z" fill="#ec2a2e"/>
<path d="M239.9,5.8 247.7,20.1 255.8,34.1 264.0,47.7 272.5,60.9 281.2,73.8 290.2,86.3 299.4,98.5 308.9,110.3 318.6,121.8 328.6,133.1 338.9,144.0 349.5,154.6 360.3,164.9 371.5,175.0 383.0,184.8 394.8,194.3 406.9,203.5 419.4,212.5 432.2,221.3 445.3,229.8 458.9,238.1 472.8,246.2 487.1,254.0 501.8,261.7 516.9,269.1 532.4,276.3 532.4,276.3 532.4,-44.8 239.9,-44.8Z" fill="#ec2a2e"/>
<path d="M244.8,5.8 252.5,19.8 260.5,33.4 268.7,46.7 277.1,59.6 285.7,72.2 294.6,84.4 303.7,96.4 313.0,108.0 322.6,119.3 332.5,130.3 342.6,141.0 353.0,151.4 363.7,161.6 374.7,171.5 385.9,181.1 397.5,190.5 409.4,199.6 421.6,208.5 434.1,217.2 447.0,225.6 460.3,233.8 473.9,241.8 487.8,249.5 502.2,257.1 516.9,264.5 532.0,271.7 532.0,271.7 532.0,-44.8 244.8,-44.8Z" fill="#ec2a2e"/>
<path d="M249.7,5.8 257.4,19.4 265.3,32.7 273.3,45.7 281.7,58.3 290.2,70.6 298.9,82.6 307.9,94.3 317.1,105.6 326.6,116.7 336.3,127.5 346.3,138.0 356.5,148.3 367.0,158.3 377.8,168.0 388.9,177.5 400.2,186.7 411.9,195.7 423.8,204.5 436.1,213.0 448.7,221.3 461.6,229.4 474.9,237.3 488.6,245.0 502.5,252.5 516.9,259.8 531.6,266.9 531.6,266.9 531.6,-44.8 249.7,-44.8Z" fill="#ec2a2e"/>
<path d="M254.6,5.8 262.2,19.1 270.0,32.1 278.1,44.7 286.3,57.0 294.7,69.0 303.3,80.8 312.2,92.2 321.3,103.3 330.6,114.2 340.2,124.8 350.0,135.1 360.0,145.1 370.3,154.9 380.9,164.5 391.8,173.8 402.9,182.9 414.3,191.8 426.0,200.4 438.1,208.8 450.4,217.1 463.0,225.1 476.0,232.9 489.3,240.5 502.9,247.9 516.9,255.1 531.3,262.2 531.3,262.2 531.3,-44.8 254.6,-44.8Z" fill="#ec2a2e"/>
<path d="M259.6,5.8 267.2,18.7 274.9,31.4 282.8,43.7 290.9,55.7 299.2,67.5 307.7,78.9 316.5,90.1 325.4,101.0 334.6,111.6 344.0,122.0 353.7,132.1 363.5,142.0 373.7,151.6 384.1,161.0 394.7,170.2 405.6,179.1 416.8,187.9 428.3,196.4 440.0,204.7 452.1,212.8 464.4,220.7 477.1,228.4 490.0,235.9 503.3,243.2 517.0,250.4 530.9,257.4 530.9,257.4 530.9,-44.8 259.6,-44.8Z" fill="#ec2a2e"/>
<path d="M264.7,5.8 272.1,18.4 279.7,30.7 287.6,42.7 295.6,54.5 303.8,65.9 312.2,77.1 320.8,88.0 329.6,98.7 338.6,109.1 347.9,119.3 357.4,129.2 367.1,138.8 377.0,148.3 387.2,157.5 397.6,166.5 408.3,175.3 419.3,183.9 430.5,192.3 442.0,200.5 453.7,208.5 465.8,216.3 478.1,223.9 490.8,231.3 503.7,238.6 517.0,245.6 530.6,252.5 530.6,252.5 530.6,-44.8 264.7,-44.8Z" fill="#ec2a2e"/>
<path d="M269.7,5.8 277.1,18.1 284.6,30.0 292.4,41.8 300.3,53.2 308.4,64.4 316.6,75.3 325.1,86.0 333.8,96.4 342.7,106.6 351.8,116.5 361.1,126.2 370.6,135.7 380.3,145.0 390.3,154.0 400.5,162.9 411.0,171.5 421.7,180.0 432.7,188.2 443.9,196.3 455.4,204.1 467.1,211.8 479.2,219.3 491.5,226.7 504.1,233.8 517.0,240.8 530.3,247.7 530.3,247.7 530.3,-44.8 269.7,-44.8Z" fill="#ec2a2e"/>
<path d="M274.9,5.8 282.1,17.7 289.6,29.4 297.2,40.8 305.0,51.9 313.0,62.8 321.1,73.5 329.4,83.9 338.0,94.1 346.7,104.0 355.6,113.8 364.8,123.3 374.1,132.6 383.7,141.7 393.5,150.5 403.5,159.2 413.7,167.7 424.2,176.0 434.9,184.1 445.8,192.0 457.0,199.8 468.5,207.4 480.2,214.8 492.2,222.0 504.5,229.1 517.1,236.0 529.9,242.7 529.9,242.7 529.9,-44.8 274.9,-44.8Z" fill="#ec2a2e"/>
<path d="M280.0,5.8 287.2,17.4 294.6,28.7 302.1,39.8 309.7,50.7 317.6,61.3 325.6,71.7 333.8,81.9 342.2,91.8 350.8,101.5 359.5,111.0 368.5,120.3 377.6,129.4 387.0,138.3 396.6,147.0 406.4,155.6 416.4,163.9 426.6,172.0 437.1,180.0 447.8,187.8 458.7,195.4 469.9,202.9 481.3,210.2 493.0,217.3 504.9,224.3 517.1,231.1 529.6,237.8 529.6,237.8 529.6,-44.8 280.0,-44.8Z" fill="#ec2a2e"/>
<path d="M285.2,5.8 292.3,17.1 299.6,28.1 307.0,38.9 314.5,49.5 322.2,59.8 330.1,69.9 338.2,79.8 346.4,89.5 354.8,99.0 363.4,108.3 372.2,117.4 381.2,126.3 390.3,135.0 399.7,143.5 409.3,151.9 419.1,160.1 429.1,168.1 439.3,175.9 449.7,183.5 460.3,191.0 471.2,198.4 482.4,205.6 493.7,212.6 505.3,219.5 517.2,226.2 529.3,232.8 529.3,232.8 529.3,-44.8 285.2,-44.8Z" fill="#ec2a2e"/>
<path d="M290.5,5.8 297.5,16.7 304.6,27.4 311.9,37.9 319.3,48.2 326.9,58.3 334.7,68.1 342.6,77.8 350.7,87.3 358.9,96.5 367.3,105.6 375.9,114.5 384.7,123.2 393.7,131.7 402.8,140.0 412.2,148.2 421.7,156.2 431.5,164.1 441.4,171.7 451.6,179.3 462.0,186.6 472.6,193.8 483.4,200.9 494.5,207.8 505.7,214.6 517.2,221.2 529.0,227.7 529.0,227.7 529.0,-44.8 290.5,-44.8Z" fill="#eb292d"/>
<path d="M295.8,5.8 302.6,16.4 309.7,26.8 316.8,37.0 324.1,47.0 331.6,56.8 339.2,66.4 347.0,75.8 354.9,85.0 363.0,94.0 371.2,102.9 379.7,111.6 388.3,120.1 397.0,128.4 406.0,136.5 415.1,144.5 424.4,152.4 433.9,160.1 443.6,167.6 453.5,175.0 463.6,182.2 473.9,189.3 484.5,196.2 495.2,203.1 506.1,209.7 517.3,216.3 528.7,222.7 528.7,222.7 528.7,-44.8 295.8,-44.8Z" fill="#e9272b"/>
<path d="M301.1,5.8 307.8,16.1 314.8,26.2 321.8,36.1 329.0,45.8 336.3,55.3 343.8,64.6 351.4,73.8 359.2,82.7 367.1,91.5 375.2,100.2 383.4,108.6 391.8,116.9 400.4,125.1 409.1,133.1 418.0,140.9 427.1,148.6 436.4,156.1 445.8,163.5 455.4,170.7 465.3,177.8 475.3,184.7 485.5,191.6 495.9,198.3 506.5,204.8 517.4,211.2 528.4,217.6 528.4,217.6 528.4,-44.8 301.1,-44.8Z" fill="#e8262a"/>
<path d="M306.3,5.8 313.0,15.8 319.8,25.5 326.7,35.2 333.8,44.6 341.0,53.8 348.3,62.9 355.7,71.8 363.3,80.5 371.1,89.1 379.0,97.5 387.1,105.8 395.3,113.9 403.6,121.8 412.2,129.6 420.9,137.3 429.7,144.8 438.7,152.1 447.9,159.4 457.3,166.5 466.9,173.4 476.6,180.2 486.5,186.9 496.6,193.5 506.9,200.0 517.5,206.3 528.2,212.5 528.2,212.5 528.2,-44.8 306.3,-44.8Z" fill="#e62429"/>
<path d="M311.6,5.8 318.1,15.5 324.8,24.9 331.6,34.3 338.5,43.4 345.5,52.4 352.7,61.2 360.0,69.9 367.5,78.4 375.1,86.7 382.8,94.9 390.7,103.0 398.7,110.9 406.9,118.6 415.2,126.2 423.6,133.7 432.3,141.1 441.1,148.3 450.0,155.3 459.1,162.3 468.4,169.1 477.9,175.8 487.5,182.4 497.3,188.8 507.3,195.2 517.5,201.4 527.9,207.5 527.9,207.5 527.9,-44.8 311.6,-44.8Z" fill="#e42228"/>
<path d="M316.7,5.8 323.2,15.2 329.7,24.4 336.4,33.4 343.2,42.3 350.1,51.0 357.1,59.6 364.3,68.0 371.6,76.3 379.0,84.4 386.5,92.4 394.2,100.2 402.1,107.9 410.0,115.5 418.1,122.9 426.4,130.2 434.8,137.4 443.4,144.4 452.1,151.4 460.9,158.2 470.0,164.8 479.2,171.4 488.5,177.9 498.0,184.2 507.7,190.4 517.6,196.5 527.6,202.5 527.6,202.5 527.6,-44.8 316.7,-44.8Z" fill="#e22027"/>
<path d="M321.9,5.8 328.2,14.9 334.6,23.8 341.1,32.5 347.8,41.2 354.6,49.6 361.5,58.0 368.5,66.1 375.6,74.2 382.9,82.1 390.2,89.9 397.7,97.5 405.4,105.0 413.2,112.4 421.1,119.6 429.1,126.8 437.3,133.8 445.6,140.7 454.1,147.4 462.7,154.1 471.5,160.6 480.4,167.1 489.5,173.4 498.7,179.6 508.1,185.7 517.7,191.7 527.4,197.6 527.4,197.6 527.4,-44.8 321.9,-44.8Z" fill="#e11f26"/>
<path d="M327.0,5.8 333.2,14.6 339.5,23.2 345.9,31.7 352.4,40.1 359.0,48.3 365.8,56.4 372.6,64.3 379.6,72.1 386.7,79.8 393.9,87.4 401.2,94.8 408.7,102.1 416.2,109.3 423.9,116.4 431.8,123.4 439.7,130.2 447.8,136.9 456.1,143.5 464.5,150.1 473.0,156.4 481.6,162.7 490.4,168.9 499.4,175.0 508.5,181.0 517.8,186.9 527.2,192.7 527.2,192.7 527.2,-44.8 327.0,-44.8Z" fill="#de1e26"/>
<path d="M332.0,5.8 338.1,14.3 344.3,22.7 350.6,30.9 357.0,39.0 363.5,47.0 370.0,54.8 376.7,62.5 383.6,70.1 390.5,77.6 397.5,84.9 404.7,92.2 411.9,99.3 419.3,106.3 426.8,113.2 434.4,120.0 442.2,126.7 450.0,133.2 458.0,139.7 466.2,146.0 474.4,152.3 482.8,158.5 491.4,164.5 500.1,170.5 508.9,176.3 517.8,182.1 526.9,187.8 526.9,187.8 526.9,-44.8 332.0,-44.8Z" fill="#da1d25"/>
<path d="M337.1,5.8 343.1,14.0 349.1,22.1 355.3,30.1 361.5,37.9 367.9,45.7 374.3,53.3 380.8,60.8 387.5,68.1 394.2,75.4 401.1,82.5 408.1,89.6 415.1,96.5 422.3,103.3 429.6,110.0 437.0,116.6 444.6,123.1 452.2,129.6 460.0,135.9 467.9,142.1 475.9,148.2 484.0,154.2 492.3,160.1 500.7,166.0 509.2,171.7 517.9,177.4 526.7,182.9 526.7,182.9 526.7,-44.8 337.1,-44.8Z" fill="#d71d25"/>
<path d="M342.2,5.8 348.0,13.7 353.9,21.6 359.9,29.3 366.0,36.9 372.2,44.4 378.5,51.7 384.9,59.0 391.4,66.2 398.0,73.2 404.7,80.1 411.4,87.0 418.3,93.7 425.3,100.3 432.4,106.9 439.6,113.3 446.9,119.7 454.4,125.9 461.9,132.1 469.6,138.1 477.3,144.1 485.2,150.0 493.2,155.8 501.4,161.5 509.6,167.1 518.0,172.6 526.5,178.1 526.5,178.1 526.5,-44.8 342.2,-44.8Z" fill="#d31c24"/>
<path d="M347.2,5.8 352.9,13.5 358.7,21.0 364.6,28.5 370.6,35.8 376.6,43.1 382.7,50.2 389.0,57.3 395.3,64.2 401.7,71.0 408.2,77.8 414.8,84.4 421.5,91.0 428.3,97.4 435.2,103.8 442.2,110.0 449.3,116.2 456.5,122.3 463.8,128.3 471.2,134.2 478.8,140.0 486.4,145.7 494.1,151.4 502.0,157.0 510.0,162.5 518.1,167.9 526.3,173.2 526.3,173.2 526.3,-44.8 347.2,-44.8Z" fill="#cf1c24"/>
<path d="M352.3,5.8 357.9,13.2 363.5,20.5 369.2,27.7 375.1,34.8 381.0,41.8 386.9,48.7 393.0,55.6 399.2,62.3 405.4,68.9 411.7,75.4 418.1,81.9 424.7,88.2 431.3,94.5 438.0,100.7 444.7,106.7 451.6,112.7 458.6,118.7 465.7,124.5 472.9,130.3 480.2,135.9 487.6,141.5 495.0,147.0 502.6,152.5 510.3,157.8 518.2,163.1 526.1,168.4 526.1,168.4 526.1,-44.8 352.3,-44.8Z" fill="#cb1b23"/>
<path d="M357.3,5.8 362.8,12.9 368.3,20.0 373.9,26.9 379.6,33.8 385.3,40.6 391.1,47.3 397.0,53.8 403.0,60.4 409.1,66.8 415.2,73.1 421.5,79.3 427.8,85.5 434.2,91.6 440.7,97.6 447.3,103.5 453.9,109.3 460.7,115.1 467.6,120.7 474.5,126.3 481.6,131.9 488.7,137.3 495.9,142.7 503.3,148.0 510.7,153.2 518.3,158.4 525.9,163.5 525.9,163.5 525.9,-44.8 357.3,-44.8Z" fill="#c71b22"/>
<path d="M362.4,5.8 367.7,12.7 373.1,19.5 378.5,26.2 384.1,32.8 389.7,39.3 395.3,45.8 401.1,52.2 406.9,58.4 412.8,64.7 418.7,70.8 424.8,76.8 430.9,82.8 437.1,88.7 443.4,94.5 449.8,100.2 456.3,105.9 462.8,111.5 469.4,117.0 476.1,122.4 483.0,127.8 489.8,133.1 496.8,138.4 503.9,143.5 511.1,148.6 518.3,153.7 525.7,158.6 525.7,158.6 525.7,-44.8 362.4,-44.8Z" fill="#c41b21"/>
<path d="M367.5,5.8 372.7,12.4 377.9,19.0 383.2,25.4 388.6,31.8 394.0,38.1 399.5,44.3 405.1,50.5 410.7,56.6 416.4,62.6 422.2,68.5 428.1,74.3 434.0,80.1 440.1,85.8 446.1,91.4 452.3,97.0 458.6,102.5 464.9,107.9 471.3,113.2 477.8,118.5 484.3,123.8 491.0,128.9 497.7,134.0 504.5,139.0 511.4,144.0 518.4,148.9 525.5,153.7 525.5,153.7 525.5,-44.8 367.5,-44.8Z" fill="#c01a20"/>
<path d="M372.6,5.8 377.6,12.2 382.7,18.4 387.9,24.7 393.1,30.8 398.4,36.9 403.7,42.9 409.1,48.8 414.6,54.7 420.1,60.5 425.7,66.2 431.4,71.8 437.2,77.4 443.0,82.9 448.9,88.4 454.8,93.7 460.8,99.1 466.9,104.3 473.1,109.5 479.4,114.6 485.7,119.7 492.1,124.7 498.6,129.6 505.2,134.5 511.8,139.4 518.5,144.1 525.3,148.8 525.3,148.8 525.3,-44.8 372.6,-44.8Z" fill="#ba191f"/>
<path d="M377.7,5.8 382.6,11.9 387.5,17.9 392.5,23.9 397.6,29.8 402.7,35.7 407.9,41.4 413.1,47.2 418.4,52.8 423.8,58.4 429.2,63.9 434.7,69.3 440.3,74.7 445.9,80.0 451.6,85.3 457.3,90.5 463.1,95.7 469.0,100.7 475.0,105.8 481.0,110.7 487.1,115.6 493.2,120.5 499.5,125.3 505.8,130.0 512.2,134.7 518.6,139.3 525.1,143.9 525.1,143.9 525.1,-44.8 377.7,-44.8Z" fill="#b4191f"/>
<path d="M382.9,5.8 387.6,11.6 392.4,17.4 397.2,23.2 402.1,28.9 407.1,34.5 412.1,40.0 417.2,45.5 422.3,50.9 427.5,56.3 432.7,61.6 438.0,66.9 443.4,72.0 448.8,77.2 454.3,82.3 459.8,87.3 465.4,92.2 471.1,97.1 476.8,102.0 482.6,106.8 488.4,111.6 494.4,116.3 500.3,120.9 506.4,125.5 512.5,130.0 518.7,134.5 525.0,139.0 525.0,139.0 525.0,-44.8 382.9,-44.8Z" fill="#ae181d"/>
<path d="M388.0,5.8 392.6,11.4 397.3,16.9 402.0,22.4 406.7,27.9 411.5,33.3 416.3,38.6 421.2,43.9 426.2,49.1 431.2,54.2 436.2,59.3 441.3,64.4 446.5,69.4 451.7,74.3 457.0,79.2 462.3,84.0 467.7,88.8 473.1,93.6 478.6,98.2 484.2,102.9 489.8,107.5 495.5,112.0 501.2,116.5 507.0,120.9 512.9,125.3 518.8,129.7 524.8,134.0 524.8,134.0 524.8,-44.8 388.0,-44.8Z" fill="#a7171c"/>
<path d="M393.3,5.8 397.7,11.1 402.2,16.5 406.7,21.7 411.3,26.9 415.9,32.1 420.6,37.2 425.3,42.2 430.0,47.2 434.9,52.2 439.7,57.0 444.6,61.9 449.6,66.7 454.6,71.4 459.7,76.1 464.8,80.8 470.0,85.4 475.2,90.0 480.5,94.5 485.8,98.9 491.2,103.4 496.6,107.7 502.1,112.1 507.6,116.4 513.2,120.6 518.9,124.8 524.6,129.0 524.6,129.0 524.6,-44.8 393.3,-44.8Z" fill="#a0161a"/>
<path d="M398.5,5.8 402.8,10.9 407.1,16.0 411.5,21.0 415.9,25.9 420.3,30.9 424.8,35.7 429.4,40.6 434.0,45.3 438.6,50.1 443.2,54.8 448.0,59.4 452.7,64.0 457.5,68.6 462.4,73.1 467.3,77.5 472.2,82.0 477.2,86.3 482.3,90.7 487.4,95.0 492.5,99.2 497.7,103.4 503.0,107.6 508.3,111.7 513.6,115.8 519.0,119.9 524.5,123.9 524.5,123.9 524.5,-44.8 398.5,-44.8Z" fill="#9b1418"/>
<path d="M403.8,5.8 408.0,10.6 412.1,15.5 416.3,20.2 420.5,25.0 424.8,29.7 429.1,34.3 433.5,38.9 437.9,43.5 442.3,48.0 446.8,52.5 451.3,56.9 455.9,61.3 460.5,65.7 465.1,70.0 469.8,74.3 474.5,78.5 479.3,82.7 484.1,86.9 489.0,91.0 493.9,95.1 498.8,99.1 503.8,103.1 508.9,107.1 514.0,111.0 519.1,114.9 524.3,118.8 524.3,118.8 524.3,-44.8 403.8,-44.8Z" fill="#961116"/>
<path d="M409.2,5.8 413.2,10.4 417.1,15.0 421.2,19.5 425.2,24.0 429.3,28.5 433.4,32.9 437.6,37.3 441.8,41.6 446.1,45.9 450.3,50.2 454.7,54.4 459.0,58.6 463.4,62.8 467.8,66.9 472.3,71.0 476.8,75.0 481.4,79.1 485.9,83.0 490.6,87.0 495.2,90.9 500.0,94.8 504.7,98.6 509.5,102.4 514.3,106.2 519.2,109.9 524.1,113.7 524.1,113.7 524.1,-44.8 409.2,-44.8Z" fill="#920f14"/>
<path d="M414.6,5.8 418.4,10.2 422.2,14.5 426.1,18.8 430.0,23.0 433.9,27.3 437.8,31.5 441.8,35.6 445.8,39.7 449.8,43.8 453.9,47.9 458.0,51.9 462.2,55.9 466.4,59.9 470.6,63.8 474.8,67.7 479.1,71.5 483.4,75.4 487.8,79.2 492.2,82.9 496.6,86.7 501.1,90.4 505.6,94.0 510.1,97.7 514.7,101.3 519.3,104.9 524.0,108.4 524.0,108.4 524.0,-44.8 414.6,-44.8Z" fill="#8d0d12"/>
<path d="M420.1,5.8 423.7,9.9 427.4,14.0 431.0,18.1 434.7,22.1 438.5,26.1 442.2,30.0 446.0,34.0 449.8,37.9 453.7,41.7 457.5,45.6 461.4,49.4 465.4,53.2 469.3,56.9 473.3,60.7 477.4,64.4 481.4,68.0 485.5,71.7 489.6,75.3 493.8,78.9 498.0,82.4 502.2,85.9 506.5,89.4 510.7,92.9 515.1,96.4 519.4,99.8 523.8,103.2 523.8,103.2 523.8,-44.8 420.1,-44.8Z" fill="#880b11"/>
<path d="M425.7,5.8 429.1,9.7 432.6,13.5 436.0,17.3 439.6,21.1 443.1,24.9 446.7,28.6 450.2,32.3 453.9,36.0 457.5,39.6 461.2,43.3 464.9,46.9 468.6,50.4 472.3,54.0 476.1,57.5 479.9,61.0 483.7,64.5 487.6,67.9 491.5,71.3 495.4,74.7 499.4,78.1 503.3,81.5 507.3,84.8 511.4,88.1 515.4,91.3 519.5,94.6 523.7,97.8 523.7,97.8 523.7,-44.8 425.7,-44.8Z" fill="#840910"/>
<path d="M431.3,5.8 434.6,9.4 437.8,13.0 441.1,16.6 444.4,20.1 447.8,23.7 451.1,27.2 454.5,30.6 457.9,34.1 461.4,37.5 464.8,40.9 468.3,44.3 471.8,47.7 475.4,51.0 478.9,54.3 482.5,57.6 486.1,60.9 489.7,64.1 493.4,67.4 497.0,70.6 500.7,73.8 504.5,76.9 508.2,80.1 512.0,83.2 515.8,86.3 519.6,89.3 523.5,92.4 523.5,92.4 523.5,-44.8 431.3,-44.8Z" fill="#7f070e"/>
<path d="M437.0,5.8 440.1,9.2 443.2,12.5 446.3,15.8 449.4,19.2 452.5,22.4 455.7,25.7 458.9,29.0 462.1,32.2 465.3,35.4 468.5,38.6 471.8,41.7 475.1,44.9 478.4,48.0 481.7,51.1 485.1,54.2 488.4,57.3 491.8,60.3 495.2,63.4 498.7,66.4 502.1,69.4 505.6,72.3 509.1,75.3 512.6,78.2 516.2,81.1 519.8,84.0 523.3,86.9 523.3,86.9 523.3,-44.8 437.0,-44.8Z" fill="#7b050d"/>
<path d="M442.9,5.8 445.7,8.9 448.6,12.0 451.5,15.1 454.4,18.2 457.4,21.2 460.3,24.3 463.3,27.3 466.3,30.3 469.3,33.2 472.3,36.2 475.3,39.2 478.4,42.1 481.5,45.0 484.6,47.9 487.7,50.8 490.8,53.6 494.0,56.5 497.1,59.3 500.3,62.1 503.5,64.9 506.8,67.7 510.0,70.4 513.3,73.2 516.6,75.9 519.9,78.6 523.2,81.3 523.2,81.3 523.2,-44.8 442.9,-44.8Z" fill="#77040c"/>
<path d="M448.8,5.8 451.5,8.7 454.1,11.5 456.8,14.3 459.5,17.2 462.3,20.0 465.0,22.8 467.8,25.6 470.5,28.3 473.3,31.1 476.1,33.8 478.9,36.5 481.8,39.2 484.6,41.9 487.5,44.6 490.3,47.3 493.2,49.9 496.1,52.5 499.1,55.2 502.0,57.8 505.0,60.4 507.9,62.9 510.9,65.5 513.9,68.0 516.9,70.6 520.0,73.1 523.0,75.6 523.0,75.6 523.0,-44.8 448.8,-44.8Z" fill="#73030a"/>
<path d="M454.8,5.8 457.3,8.4 459.8,11.0 462.2,13.6 464.7,16.2 467.2,18.7 469.8,21.3 472.3,23.8 474.8,26.4 477.4,28.9 480.0,31.4 482.6,33.9 485.2,36.4 487.8,38.8 490.4,41.3 493.0,43.7 495.7,46.1 498.3,48.6 501.0,51.0 503.7,53.4 506.4,55.7 509.1,58.1 511.8,60.5 514.6,62.8 517.3,65.2 520.1,67.5 522.9,69.8 522.9,69.8 522.9,-44.8 454.8,-44.8Z" fill="#700209"/>
<path d="M461.0,5.8 463.2,8.1 465.5,10.5 467.8,12.8 470.0,15.2 472.3,17.5 474.6,19.8 476.9,22.1 479.2,24.4 481.6,26.7 483.9,28.9 486.3,31.2 488.6,33.4 491.0,35.7 493.4,37.9 495.7,40.1 498.1,42.3 500.6,44.5 503.0,46.7 505.4,48.9 507.9,51.1 510.3,53.2 512.8,55.4 515.2,57.5 517.7,59.6 520.2,61.8 522.7,63.9 522.7,63.9 522.7,-44.8 461.0,-44.8Z" fill="#6e0107"/>
<path d="M467.3,5.8 469.3,7.9 471.4,10.0 473.4,12.1 475.5,14.1 477.5,16.2 479.6,18.3 481.6,20.3 483.7,22.4 485.8,24.4 487.9,26.4 490.0,28.4 492.1,30.5 494.2,32.5 496.4,34.5 498.5,36.4 500.7,38.4 502.8,40.4 505.0,42.4 507.1,44.3 509.3,46.3 511.5,48.2 513.7,50.1 515.9,52.1 518.1,54.0 520.4,55.9 522.6,57.8 522.6,57.8 522.6,-44.8 467.3,-44.8Z" fill="#6b0006"/>
<path d="M473.8,5.8 475.6,7.6 477.4,9.5 479.2,11.3 481.0,13.1 482.8,14.9 484.6,16.7 486.5,18.5 488.3,20.3 490.1,22.1 492.0,23.9 493.8,25.7 495.7,27.4 497.6,29.2 499.4,30.9 501.3,32.7 503.2,34.4 505.1,36.2 507.0,37.9 508.9,39.6 510.8,41.4 512.7,43.1 514.7,44.8 516.6,46.5 518.5,48.2 520.5,49.9 522.4,51.6 522.4,51.6 522.4,-44.8 473.8,-44.8Z" fill="#6a0005"/>
<path d="M167.7,5.8 L172.0,16.5 L176.4,27.1 L180.9,37.4 L185.5,47.5 L190.2,57.4 L195.0,67.1 L199.9,76.6 L204.9,85.9 L210.0,95.1 L215.2,104.0 L220.5,112.8 L225.9,121.3 L231.4,129.8 L237.0,138.0 L242.8,146.1 L248.7,154.0 L254.7,161.7 L260.8,169.3 L267.0,176.8 L273.4,184.0 L279.9,191.2 L285.7,197.3" fill="none" stroke="#000" stroke-width="1.45"/>
<path d="M310.0,220.8 L317.3,227.2 L324.7,233.4 L332.2,239.6 L340.0,245.6 L347.8,251.5 L355.9,257.2 L364.1,262.9 L372.5,268.4 L381.0,273.9 L389.8,279.2 L398.7,284.4 L407.8,289.5 L417.1,294.5 L426.5,299.4 L436.2,304.2 L446.1,308.9 L456.2,313.5 L466.5,318.0 L477.0,322.5 L487.7,326.8 L498.6,331.1 L509.8,335.2 L521.1,339.3 L532.8,343.3 L540.1,345.7" fill="none" stroke="#000" stroke-width="1.45"/>
</g>
<text x="296.5" y="217.3" font-size="21.5" text-anchor="middle" font-family="Liberation Serif, serif" fill="#000">2.00 ms</text>
<rect x="67.0" y="31.05" width="433.10" height="416.65" fill="none" stroke="#000" stroke-width="1.6"/>
<path d="M67.00,447.7 V455.80 M121.14,447.7 V455.80 M175.28,447.7 V455.80 M229.41,447.7 V455.80 M283.55,447.7 V455.80 M337.69,447.7 V455.80 M391.83,447.7 V455.80 M445.96,447.7 V455.80 M500.10,447.7 V455.80 M94.07,447.7 V451.80 M148.21,447.7 V451.80 M202.34,447.7 V451.80 M256.48,447.7 V451.80 M310.62,447.7 V451.80 M364.76,447.7 V451.80 M418.89,447.7 V451.80 M473.03,447.7 V451.80 M67.0,435.37 H59.20 M67.0,334.29 H59.20 M67.0,233.21 H59.20 M67.0,132.13 H59.20 M67.0,31.05 H59.20 M67.0,384.83 H62.80 M67.0,283.75 H62.80 M67.0,182.67 H62.80 M67.0,81.59 H62.80" stroke="#000" stroke-width="1.7" fill="none"/>
<text x="67.40" y="475.8" font-size="18" text-anchor="middle" font-family="Liberation Serif, serif">10</text>
<text x="121.54" y="475.8" font-size="18" text-anchor="middle" font-family="Liberation Serif, serif">15</text>
<text x="175.68" y="475.8" font-size="18" text-anchor="middle" font-family="Liberation Serif, serif">20</text>
<text x="229.81" y="475.8" font-size="18" text-anchor="middle" font-family="Liberation Serif, serif">25</text>
<text x="283.95" y="475.8" font-size="18" text-anchor="middle" font-family="Liberation Serif, serif">30</text>
<text x="338.09" y="475.8" font-size="18" text-anchor="middle" font-family="Liberation Serif, serif">35</text>
<text x="392.23" y="475.8" font-size="18" text-anchor="middle" font-family="Liberation Serif, serif">40</text>
<text x="446.36" y="475.8" font-size="18" text-anchor="middle" font-family="Liberation Serif, serif">45</text>
<text x="500.50" y="475.8" font-size="18" text-anchor="middle" font-family="Liberation Serif, serif">50</text>
<text x="53.6" y="441.67" font-size="18" text-anchor="end" font-family="Liberation Serif, serif">4</text>
<text x="53.6" y="340.59" font-size="18" text-anchor="end" font-family="Liberation Serif, serif">8</text>
<text x="53.6" y="239.51" font-size="18" text-anchor="end" font-family="Liberation Serif, serif">12</text>
<text x="53.6" y="138.43" font-size="18" text-anchor="end" font-family="Liberation Serif, serif">16</text>
<text x="53.6" y="37.35" font-size="18" text-anchor="end" font-family="Liberation Serif, serif">20</text>
<text x="283" y="509.5" font-size="22" text-anchor="middle" font-family="Liberation Serif, serif">C1 / mF</text>
<text transform="translate(21.8,239.5) rotate(-90)" font-size="22" text-anchor="middle" font-family="Liberation Serif, serif">L2 / mH</text>
<rect x="566.5" y="35.40" width="34.0" height="408.50" fill="#6b0006"/>
<rect x="566.5" y="37.95" width="34.0" height="405.95" fill="#6e0107"/>
<rect x="566.5" y="40.51" width="34.0" height="403.39" fill="#700209"/>
<rect x="566.5" y="43.06" width="34.0" height="400.84" fill="#73030a"/>
<rect x="566.5" y="45.61" width="34.0" height="398.29" fill="#77040c"/>
<rect x="566.5" y="48.17" width="34.0" height="395.73" fill="#7b050d"/>
<rect x="566.5" y="50.72" width="34.0" height="393.18" fill="#7f070e"/>
<rect x="566.5" y="53.27" width="34.0" height="390.63" fill="#840910"/>
<rect x="566.5" y="55.82" width="34.0" height="388.07" fill="#880b11"/>
<rect x="566.5" y="58.38" width="34.0" height="385.52" fill="#8d0d12"/>
<rect x="566.5" y="60.93" width="34.0" height="382.97" fill="#920f14"/>
<rect x="566.5" y="63.48" width="34.0" height="380.42" fill="#961116"/>
<rect x="566.5" y="66.04" width="34.0" height="377.86" fill="#9b1418"/>
<rect x="566.5" y="68.59" width="34.0" height="375.31" fill="#a0161a"/>
<rect x="566.5" y="71.14" width="34.0" height="372.76" fill="#a7171c"/>
<rect x="566.5" y="73.70" width="34.0" height="370.20" fill="#ae181d"/>
<rect x="566.5" y="76.25" width="34.0" height="367.65" fill="#b4191f"/>
<rect x="566.5" y="78.80" width="34.0" height="365.10" fill="#ba191f"/>
<rect x="566.5" y="81.36" width="34.0" height="362.54" fill="#c01a20"/>
<rect x="566.5" y="83.91" width="34.0" height="359.99" fill="#c41b21"/>
<rect x="566.5" y="86.46" width="34.0" height="357.44" fill="#c71b22"/>
<rect x="566.5" y="89.02" width="34.0" height="354.88" fill="#cb1b23"/>
<rect x="566.5" y="91.57" width="34.0" height="352.33" fill="#cf1c24"/>
<rect x="566.5" y="94.12" width="34.0" height="349.78" fill="#d31c24"/>
<rect x="566.5" y="96.68" width="34.0" height="347.22" fill="#d71d25"/>
<rect x="566.5" y="99.23" width="34.0" height="344.67" fill="#da1d25"/>
<rect x="566.5" y="101.78" width="34.0" height="342.12" fill="#de1e26"/>
<rect x="566.5" y="104.33" width="34.0" height="339.57" fill="#e11f26"/>
<rect x="566.5" y="106.89" width="34.0" height="337.01" fill="#e22027"/>
<rect x="566.5" y="109.44" width="34.0" height="334.46" fill="#e42228"/>
<rect x="566.5" y="111.99" width="34.0" height="331.91" fill="#e62429"/>
<rect x="566.5" y="114.55" width="34.0" height="329.35" fill="#e8262a"/>
<rect x="566.5" y="117.10" width="34.0" height="326.80" fill="#e9272b"/>
<rect x="566.5" y="119.65" width="34.0" height="324.25" fill="#eb292d"/>
<rect x="566.5" y="122.21" width="34.0" height="321.69" fill="#ec2a2e"/>
<rect x="566.5" y="124.76" width="34.0" height="319.14" fill="#ec2a2e"/>
<rect x="566.5" y="127.31" width="34.0" height="316.59" fill="#ec2a2e"/>
<rect x="566.5" y="129.87" width="34.0" height="314.03" fill="#ec2a2e"/>
<rect x="566.5" y="132.42" width="34.0" height="311.48" fill="#ec2a2e"/>
<rect x="566.5" y="134.97" width="34.0" height="308.93" fill="#ec2a2e"/>
<rect x="566.5" y="137.53" width="34.0" height="306.37" fill="#ec2a2e"/>
<rect x="566.5" y="140.08" width="34.0" height="303.82" fill="#ec2a2e"/>
<rect x="566.5" y="142.63" width="34.0" height="301.27" fill="#ec2a2e"/>
<rect x="566.5" y="145.18" width="34.0" height="298.72" fill="#ec2a2e"/>
<rect x="566.5" y="147.74" width="34.0" height="296.16" fill="#ec2a2e"/>
<rect x="566.5" y="150.29" width="34.0" height="293.61" fill="#ec2a2e"/>
<rect x="566.5" y="152.84" width="34.0" height="291.06" fill="#ec2a2e"/>
<rect x="566.5" y="155.40" width="34.0" height="288.50" fill="#ec2a2e"/>
<rect x="566.5" y="157.95" width="34.0" height="285.95" fill="#ec2a2e"/>
<rect x="566.5" y="160.50" width="34.0" height="283.40" fill="#ec2a2e"/>
<rect x="566.5" y="163.06" width="34.0" height="280.84" fill="#ec2a2e"/>
<rect x="566.5" y="165.61" width="34.0" height="278.29" fill="#ec2a2e"/>
<rect x="566.5" y="168.16" width="34.0" height="275.74" fill="#ec2a2e"/>
<rect x="566.5" y="170.72" width="34.0" height="273.18" fill="#ec2a2e"/>
<rect x="566.5" y="173.27" width="34.0" height="270.63" fill="#ec2a2e"/>
<rect x="566.5" y="175.82" width="34.0" height="268.08" fill="#ec2a2e"/>
<rect x="566.5" y="178.37" width="34.0" height="265.53" fill="#ea3b2c"/>
<rect x="566.5" y="180.93" width="34.0" height="262.97" fill="#ea462e"/>
<rect x="566.5" y="183.48" width="34.0" height="260.42" fill="#ea4d2f"/>
<rect x="566.5" y="186.03" width="34.0" height="257.87" fill="#eb552f"/>
<rect x="566.5" y="188.59" width="34.0" height="255.31" fill="#eb5c30"/>
<rect x="566.5" y="191.14" width="34.0" height="252.76" fill="#ec6430"/>
<rect x="566.5" y="193.69" width="34.0" height="250.21" fill="#ee6b30"/>
<rect x="566.5" y="196.25" width="34.0" height="247.65" fill="#ee712f"/>
<rect x="566.5" y="198.80" width="34.0" height="245.10" fill="#f0792f"/>
<rect x="566.5" y="201.35" width="34.0" height="242.55" fill="#f1842d"/>
<rect x="566.5" y="203.91" width="34.0" height="239.99" fill="#f48f2a"/>
<rect x="566.5" y="206.46" width="34.0" height="237.44" fill="#f59529"/>
<rect x="566.5" y="209.01" width="34.0" height="234.89" fill="#f69c28"/>
<rect x="566.5" y="211.57" width="34.0" height="232.33" fill="#f8a226"/>
<rect x="566.5" y="214.12" width="34.0" height="229.78" fill="#f9a825"/>
<rect x="566.5" y="216.67" width="34.0" height="227.23" fill="#fab323"/>
<rect x="566.5" y="219.22" width="34.0" height="224.67" fill="#fbbf22"/>
<rect x="566.5" y="221.78" width="34.0" height="222.12" fill="#fcca20"/>
<rect x="566.5" y="224.33" width="34.0" height="219.57" fill="#fcd21f"/>
<rect x="566.5" y="226.88" width="34.0" height="217.02" fill="#fdda1f"/>
<rect x="566.5" y="229.44" width="34.0" height="214.46" fill="#fde11f"/>
<rect x="566.5" y="231.99" width="34.0" height="211.91" fill="#f6e62c"/>
<rect x="566.5" y="234.54" width="34.0" height="209.36" fill="#f1e635"/>
<rect x="566.5" y="237.10" width="34.0" height="206.80" fill="#efe537"/>
<rect x="566.5" y="239.65" width="34.0" height="204.25" fill="#ebe43a"/>
<rect x="566.5" y="242.20" width="34.0" height="201.70" fill="#e4e23f"/>
<rect x="566.5" y="244.76" width="34.0" height="199.14" fill="#dde043"/>
<rect x="566.5" y="247.31" width="34.0" height="196.59" fill="#d5dd47"/>
<rect x="566.5" y="249.86" width="34.0" height="194.04" fill="#ccda4a"/>
<rect x="566.5" y="252.42" width="34.0" height="191.48" fill="#c4d84e"/>
<rect x="566.5" y="254.97" width="34.0" height="188.93" fill="#bbd551"/>
<rect x="566.5" y="257.52" width="34.0" height="186.38" fill="#b2d254"/>
<rect x="566.5" y="260.07" width="34.0" height="183.82" fill="#a9cf56"/>
<rect x="566.5" y="262.63" width="34.0" height="181.27" fill="#a1cd58"/>
<rect x="566.5" y="265.18" width="34.0" height="178.72" fill="#99ca59"/>
<rect x="566.5" y="267.73" width="34.0" height="176.17" fill="#91c85a"/>
<rect x="566.5" y="270.29" width="34.0" height="173.61" fill="#8cc65b"/>
<rect x="566.5" y="272.84" width="34.0" height="171.06" fill="#88c55c"/>
<rect x="566.5" y="275.39" width="34.0" height="168.51" fill="#84c45d"/>
<rect x="566.5" y="277.95" width="34.0" height="165.95" fill="#81c35e"/>
<rect x="566.5" y="280.50" width="34.0" height="163.40" fill="#7cc25e"/>
<rect x="566.5" y="283.05" width="34.0" height="160.85" fill="#77c15f"/>
<rect x="566.5" y="285.61" width="34.0" height="158.29" fill="#73bf5f"/>
<rect x="566.5" y="288.16" width="34.0" height="155.74" fill="#6ebe60"/>
<rect x="566.5" y="290.71" width="34.0" height="153.19" fill="#6bbd60"/>
<rect x="566.5" y="293.27" width="34.0" height="150.63" fill="#68bc60"/>
<rect x="566.5" y="295.82" width="34.0" height="148.08" fill="#64bb60"/>
<rect x="566.5" y="298.37" width="34.0" height="145.53" fill="#61ba60"/>
<rect x="566.5" y="300.92" width="34.0" height="142.98" fill="#5fb95f"/>
<rect x="566.5" y="303.48" width="34.0" height="140.42" fill="#5cb85f"/>
<rect x="566.5" y="306.03" width="34.0" height="137.87" fill="#59b75e"/>
<rect x="566.5" y="308.58" width="34.0" height="135.32" fill="#58b75e"/>
<rect x="566.5" y="311.14" width="34.0" height="132.76" fill="#57b65e"/>
<rect x="566.5" y="313.69" width="34.0" height="130.21" fill="#57b765"/>
<rect x="566.5" y="316.24" width="34.0" height="127.66" fill="#59b977"/>
<rect x="566.5" y="318.80" width="34.0" height="125.10" fill="#5bba80"/>
<rect x="566.5" y="321.35" width="34.0" height="122.55" fill="#5cbb85"/>
<rect x="566.5" y="323.90" width="34.0" height="120.00" fill="#5ebb8a"/>
<rect x="566.5" y="326.46" width="34.0" height="117.44" fill="#5fbc8f"/>
<rect x="566.5" y="329.01" width="34.0" height="114.89" fill="#6bc2ba"/>
<rect x="566.5" y="331.56" width="34.0" height="112.34" fill="#66c2c1"/>
<rect x="566.5" y="334.12" width="34.0" height="109.78" fill="#58c0ce"/>
<rect x="566.5" y="336.67" width="34.0" height="107.23" fill="#3cbbdc"/>
<rect x="566.5" y="339.22" width="34.0" height="104.68" fill="#2ab8e6"/>
<rect x="566.5" y="341.77" width="34.0" height="102.12" fill="#24b6e8"/>
<rect x="566.5" y="344.33" width="34.0" height="99.57" fill="#1fb5eb"/>
<rect x="566.5" y="346.88" width="34.0" height="97.02" fill="#3d98da"/>
<rect x="566.5" y="349.43" width="34.0" height="94.47" fill="#3b90d3"/>
<rect x="566.5" y="351.99" width="34.0" height="91.91" fill="#3988cc"/>
<rect x="566.5" y="354.54" width="34.0" height="89.36" fill="#3780c5"/>
<rect x="566.5" y="357.09" width="34.0" height="86.81" fill="#3578be"/>
<rect x="566.5" y="359.65" width="34.0" height="84.25" fill="#3372ba"/>
<rect x="566.5" y="362.20" width="34.0" height="81.70" fill="#306cb6"/>
<rect x="566.5" y="364.75" width="34.0" height="79.15" fill="#2e66b2"/>
<rect x="566.5" y="367.31" width="34.0" height="76.59" fill="#2961ad"/>
<rect x="566.5" y="369.86" width="34.0" height="74.04" fill="#2a4ba0"/>
<rect x="566.5" y="372.41" width="34.0" height="71.49" fill="#2a4ba0"/>
<rect x="566.5" y="374.97" width="34.0" height="68.93" fill="#2b4ba1"/>
<rect x="566.5" y="377.52" width="34.0" height="66.38" fill="#2b4ba1"/>
<rect x="566.5" y="380.07" width="34.0" height="63.83" fill="#2b4ba1"/>
<rect x="566.5" y="382.62" width="34.0" height="61.27" fill="#2c4ca1"/>
<rect x="566.5" y="385.18" width="34.0" height="58.72" fill="#2c4ca1"/>
<rect x="566.5" y="387.73" width="34.0" height="56.17" fill="#2c4ca2"/>
<rect x="566.5" y="390.28" width="34.0" height="53.62" fill="#2d4ca2"/>
<rect x="566.5" y="392.84" width="34.0" height="51.06" fill="#304ba2"/>
<rect x="566.5" y="395.39" width="34.0" height="48.51" fill="#3649a0"/>
<rect x="566.5" y="397.94" width="34.0" height="45.96" fill="#3c48a0"/>
<rect x="566.5" y="400.50" width="34.0" height="43.40" fill="#42469e"/>
<rect x="566.5" y="403.05" width="34.0" height="40.85" fill="#48449d"/>
<rect x="566.5" y="405.60" width="34.0" height="38.30" fill="#4e419c"/>
<rect x="566.5" y="408.16" width="34.0" height="35.74" fill="#533e9a"/>
<rect x="566.5" y="410.71" width="34.0" height="33.19" fill="#593b99"/>
<rect x="566.5" y="413.26" width="34.0" height="30.64" fill="#5f3997"/>
<rect x="566.5" y="415.82" width="34.0" height="28.08" fill="#653695"/>
<rect x="566.5" y="418.37" width="34.0" height="25.53" fill="#6b3492"/>
<rect x="566.5" y="420.92" width="34.0" height="22.98" fill="#713190"/>
<rect x="566.5" y="423.47" width="34.0" height="20.43" fill="#752e8d"/>
<rect x="566.5" y="426.03" width="34.0" height="17.87" fill="#762a89"/>
<rect x="566.5" y="428.58" width="34.0" height="15.32" fill="#782586"/>
<rect x="566.5" y="431.13" width="34.0" height="12.77" fill="#792182"/>
<rect x="566.5" y="433.69" width="34.0" height="10.21" fill="#761c7b"/>
<rect x="566.5" y="436.24" width="34.0" height="7.66" fill="#6e1670"/>
<rect x="566.5" y="438.79" width="34.0" height="5.11" fill="#660f65"/>
<rect x="566.5" y="441.35" width="34.0" height="2.55" fill="#5e095a"/>
<rect x="566.5" y="443.90" width="34.0" height="3.80" fill="#fff"/>
<path d="M566.5,447.7 V30.849999999999998 H600.5 V447.7" fill="none" stroke="#000" stroke-width="1.1" stroke-linejoin="miter"/>
<path d="M566.0,447.7 H601.0" fill="none" stroke="#6a6a6a" stroke-width="1"/>
<path d="M601.0,443.90 h8 M601.0,403.05 h8 M601.0,362.20 h8 M601.0,321.35 h8 M601.0,280.50 h8 M601.0,239.65 h8 M601.0,198.80 h8 M601.0,157.95 h8 M601.0,117.10 h8 M601.0,76.25 h8 M601.0,35.40 h8" stroke="#000" stroke-width="1.25" fill="none"/>
<text x="614.3" y="448.50" font-size="13.8" font-family="Liberation Serif, serif">0.00 ms</text>
<text x="614.3" y="407.65" font-size="13.8" font-family="Liberation Serif, serif">0.32 ms</text>
<text x="614.3" y="366.80" font-size="13.8" font-family="Liberation Serif, serif">0.64 ms</text>
<text x="614.3" y="325.95" font-size="13.8" font-family="Liberation Serif, serif">0.96 ms</text>
<text x="614.3" y="285.10" font-size="13.8" font-family="Liberation Serif, serif">1.28 ms</text>
<text x="614.3" y="244.25" font-size="13.8" font-family="Liberation Serif, serif">1.60 ms</text>
<text x="614.3" y="203.40" font-size="13.8" font-family="Liberation Serif, serif">1.92 ms</text>
<text x="614.3" y="162.55" font-size="13.8" font-family="Liberation Serif, serif">2.24 ms</text>
<text x="614.3" y="121.70" font-size="13.8" font-family="Liberation Serif, serif">2.56 ms</text>
<text x="614.3" y="80.85" font-size="13.8" font-family="Liberation Serif, serif">2.88 ms</text>
<text x="614.3" y="40.00" font-size="13.8" font-family="Liberation Serif, serif">3.20 ms</text>
<text x="584.3" y="16.5" font-size="21.5" text-anchor="middle" font-family="Liberation Serif, serif">t</text>
</svg>
</body></html>
